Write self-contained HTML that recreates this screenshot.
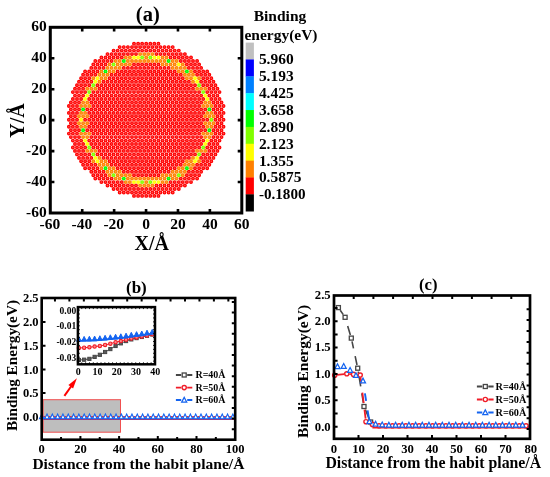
<!DOCTYPE html>
<html lang="en">
<head>
<meta charset="utf-8">
<title>Binding energy figure</title>
<style>
html,body{margin:0;padding:0;background:#fff;}
body{width:550px;height:477px;overflow:hidden;}
svg{display:block;}
svg text{font-family:'Liberation Serif', 'DejaVu Serif', serif;font-weight:bold;fill:#000;}
</style>
</head>
<body>
<svg width="550" height="477" viewBox="0 0 550 477">
<rect width="550" height="477" fill="#fff"/>
<g id="panel-a">
<g fill="#ff5050" stroke="#ff0000" stroke-width="1.2">
<circle cx="134.0" cy="43.7" r="1.35"/><circle cx="138.1" cy="43.7" r="1.35"/><circle cx="142.1" cy="43.7" r="1.35"/><circle cx="146.2" cy="43.7" r="1.35"/><circle cx="150.3" cy="43.7" r="1.35"/><circle cx="154.3" cy="43.7" r="1.35"/><circle cx="158.4" cy="43.7" r="1.35"/><circle cx="119.7" cy="47.1" r="1.35"/><circle cx="123.8" cy="47.1" r="1.35"/><circle cx="127.9" cy="47.1" r="1.35"/><circle cx="132.0" cy="47.1" r="1.35"/><circle cx="136.0" cy="47.1" r="1.35"/><circle cx="140.1" cy="47.1" r="1.35"/><circle cx="144.2" cy="47.1" r="1.35"/><circle cx="148.2" cy="47.1" r="1.35"/><circle cx="152.3" cy="47.1" r="1.35"/><circle cx="156.4" cy="47.1" r="1.35"/><circle cx="160.4" cy="47.1" r="1.35"/><circle cx="164.5" cy="47.1" r="1.35"/><circle cx="168.6" cy="47.1" r="1.35"/><circle cx="172.7" cy="47.1" r="1.35"/><circle cx="113.6" cy="50.6" r="1.35"/><circle cx="117.7" cy="50.6" r="1.35"/><circle cx="121.8" cy="50.6" r="1.35"/><circle cx="125.8" cy="50.6" r="1.35"/><circle cx="129.9" cy="50.6" r="1.35"/><circle cx="134.0" cy="50.6" r="1.35"/><circle cx="138.1" cy="50.6" r="1.35"/><circle cx="142.1" cy="50.6" r="1.35"/><circle cx="146.2" cy="50.6" r="1.35"/><circle cx="150.3" cy="50.6" r="1.35"/><circle cx="154.3" cy="50.6" r="1.35"/><circle cx="158.4" cy="50.6" r="1.35"/><circle cx="162.5" cy="50.6" r="1.35"/><circle cx="166.5" cy="50.6" r="1.35"/><circle cx="170.6" cy="50.6" r="1.35"/><circle cx="174.7" cy="50.6" r="1.35"/><circle cx="178.8" cy="50.6" r="1.35"/><circle cx="107.5" cy="54.1" r="1.35"/><circle cx="111.6" cy="54.1" r="1.35"/><circle cx="115.7" cy="54.1" r="1.35"/><circle cx="119.7" cy="54.1" r="1.35"/><circle cx="123.8" cy="54.1" r="1.35"/><circle cx="127.9" cy="54.1" r="1.35"/><circle cx="132.0" cy="54.1" r="1.35"/><circle cx="136.0" cy="54.1" r="1.35"/><circle cx="156.4" cy="54.1" r="1.35"/><circle cx="160.4" cy="54.1" r="1.35"/><circle cx="164.5" cy="54.1" r="1.35"/><circle cx="168.6" cy="54.1" r="1.35"/><circle cx="172.7" cy="54.1" r="1.35"/><circle cx="176.7" cy="54.1" r="1.35"/><circle cx="180.8" cy="54.1" r="1.35"/><circle cx="184.9" cy="54.1" r="1.35"/><circle cx="101.4" cy="57.5" r="1.35"/><circle cx="105.5" cy="57.5" r="1.35"/><circle cx="109.6" cy="57.5" r="1.35"/><circle cx="113.6" cy="57.5" r="1.35"/><circle cx="117.7" cy="57.5" r="1.35"/><circle cx="121.8" cy="57.5" r="1.35"/><circle cx="170.6" cy="57.5" r="1.35"/><circle cx="174.7" cy="57.5" r="1.35"/><circle cx="178.8" cy="57.5" r="1.35"/><circle cx="182.8" cy="57.5" r="1.35"/><circle cx="186.9" cy="57.5" r="1.35"/><circle cx="191.0" cy="57.5" r="1.35"/><circle cx="95.3" cy="61.0" r="1.35"/><circle cx="99.4" cy="61.0" r="1.35"/><circle cx="103.5" cy="61.0" r="1.35"/><circle cx="107.5" cy="61.0" r="1.35"/><circle cx="111.6" cy="61.0" r="1.35"/><circle cx="180.8" cy="61.0" r="1.35"/><circle cx="184.9" cy="61.0" r="1.35"/><circle cx="188.9" cy="61.0" r="1.35"/><circle cx="193.0" cy="61.0" r="1.35"/><circle cx="197.1" cy="61.0" r="1.35"/><circle cx="93.3" cy="64.4" r="1.35"/><circle cx="97.4" cy="64.4" r="1.35"/><circle cx="101.4" cy="64.4" r="1.35"/><circle cx="105.5" cy="64.4" r="1.35"/><circle cx="134.0" cy="64.4" r="1.35"/><circle cx="138.1" cy="64.4" r="1.35"/><circle cx="142.1" cy="64.4" r="1.35"/><circle cx="146.2" cy="64.4" r="1.35"/><circle cx="150.3" cy="64.4" r="1.35"/><circle cx="154.3" cy="64.4" r="1.35"/><circle cx="158.4" cy="64.4" r="1.35"/><circle cx="186.9" cy="64.4" r="1.35"/><circle cx="191.0" cy="64.4" r="1.35"/><circle cx="195.0" cy="64.4" r="1.35"/><circle cx="199.1" cy="64.4" r="1.35"/><circle cx="91.3" cy="67.9" r="1.35"/><circle cx="95.3" cy="67.9" r="1.35"/><circle cx="99.4" cy="67.9" r="1.35"/><circle cx="103.5" cy="67.9" r="1.35"/><circle cx="123.8" cy="67.9" r="1.35"/><circle cx="127.9" cy="67.9" r="1.35"/><circle cx="132.0" cy="67.9" r="1.35"/><circle cx="136.0" cy="67.9" r="1.35"/><circle cx="140.1" cy="67.9" r="1.35"/><circle cx="144.2" cy="67.9" r="1.35"/><circle cx="148.2" cy="67.9" r="1.35"/><circle cx="152.3" cy="67.9" r="1.35"/><circle cx="156.4" cy="67.9" r="1.35"/><circle cx="160.4" cy="67.9" r="1.35"/><circle cx="164.5" cy="67.9" r="1.35"/><circle cx="168.6" cy="67.9" r="1.35"/><circle cx="188.9" cy="67.9" r="1.35"/><circle cx="193.0" cy="67.9" r="1.35"/><circle cx="197.1" cy="67.9" r="1.35"/><circle cx="201.1" cy="67.9" r="1.35"/><circle cx="85.1" cy="71.4" r="1.35"/><circle cx="89.2" cy="71.4" r="1.35"/><circle cx="93.3" cy="71.4" r="1.35"/><circle cx="97.4" cy="71.4" r="1.35"/><circle cx="117.7" cy="71.4" r="1.35"/><circle cx="121.8" cy="71.4" r="1.35"/><circle cx="125.8" cy="71.4" r="1.35"/><circle cx="129.9" cy="71.4" r="1.35"/><circle cx="134.0" cy="71.4" r="1.35"/><circle cx="138.1" cy="71.4" r="1.35"/><circle cx="142.1" cy="71.4" r="1.35"/><circle cx="146.2" cy="71.4" r="1.35"/><circle cx="150.3" cy="71.4" r="1.35"/><circle cx="154.3" cy="71.4" r="1.35"/><circle cx="158.4" cy="71.4" r="1.35"/><circle cx="162.5" cy="71.4" r="1.35"/><circle cx="166.5" cy="71.4" r="1.35"/><circle cx="170.6" cy="71.4" r="1.35"/><circle cx="174.7" cy="71.4" r="1.35"/><circle cx="195.0" cy="71.4" r="1.35"/><circle cx="199.1" cy="71.4" r="1.35"/><circle cx="203.2" cy="71.4" r="1.35"/><circle cx="207.2" cy="71.4" r="1.35"/><circle cx="83.1" cy="74.8" r="1.35"/><circle cx="87.2" cy="74.8" r="1.35"/><circle cx="91.3" cy="74.8" r="1.35"/><circle cx="95.3" cy="74.8" r="1.35"/><circle cx="111.6" cy="74.8" r="1.35"/><circle cx="115.7" cy="74.8" r="1.35"/><circle cx="119.7" cy="74.8" r="1.35"/><circle cx="123.8" cy="74.8" r="1.35"/><circle cx="127.9" cy="74.8" r="1.35"/><circle cx="132.0" cy="74.8" r="1.35"/><circle cx="136.0" cy="74.8" r="1.35"/><circle cx="140.1" cy="74.8" r="1.35"/><circle cx="144.2" cy="74.8" r="1.35"/><circle cx="148.2" cy="74.8" r="1.35"/><circle cx="152.3" cy="74.8" r="1.35"/><circle cx="156.4" cy="74.8" r="1.35"/><circle cx="160.4" cy="74.8" r="1.35"/><circle cx="164.5" cy="74.8" r="1.35"/><circle cx="168.6" cy="74.8" r="1.35"/><circle cx="172.7" cy="74.8" r="1.35"/><circle cx="176.7" cy="74.8" r="1.35"/><circle cx="180.8" cy="74.8" r="1.35"/><circle cx="197.1" cy="74.8" r="1.35"/><circle cx="201.1" cy="74.8" r="1.35"/><circle cx="205.2" cy="74.8" r="1.35"/><circle cx="209.3" cy="74.8" r="1.35"/><circle cx="81.1" cy="78.3" r="1.35"/><circle cx="85.1" cy="78.3" r="1.35"/><circle cx="89.2" cy="78.3" r="1.35"/><circle cx="109.6" cy="78.3" r="1.35"/><circle cx="113.6" cy="78.3" r="1.35"/><circle cx="117.7" cy="78.3" r="1.35"/><circle cx="121.8" cy="78.3" r="1.35"/><circle cx="125.8" cy="78.3" r="1.35"/><circle cx="129.9" cy="78.3" r="1.35"/><circle cx="134.0" cy="78.3" r="1.35"/><circle cx="138.1" cy="78.3" r="1.35"/><circle cx="142.1" cy="78.3" r="1.35"/><circle cx="146.2" cy="78.3" r="1.35"/><circle cx="150.3" cy="78.3" r="1.35"/><circle cx="154.3" cy="78.3" r="1.35"/><circle cx="158.4" cy="78.3" r="1.35"/><circle cx="162.5" cy="78.3" r="1.35"/><circle cx="166.5" cy="78.3" r="1.35"/><circle cx="170.6" cy="78.3" r="1.35"/><circle cx="174.7" cy="78.3" r="1.35"/><circle cx="178.8" cy="78.3" r="1.35"/><circle cx="182.8" cy="78.3" r="1.35"/><circle cx="203.2" cy="78.3" r="1.35"/><circle cx="207.2" cy="78.3" r="1.35"/><circle cx="211.3" cy="78.3" r="1.35"/><circle cx="79.0" cy="81.7" r="1.35"/><circle cx="83.1" cy="81.7" r="1.35"/><circle cx="87.2" cy="81.7" r="1.35"/><circle cx="91.3" cy="81.7" r="1.35"/><circle cx="103.5" cy="81.7" r="1.35"/><circle cx="107.5" cy="81.7" r="1.35"/><circle cx="111.6" cy="81.7" r="1.35"/><circle cx="115.7" cy="81.7" r="1.35"/><circle cx="119.7" cy="81.7" r="1.35"/><circle cx="123.8" cy="81.7" r="1.35"/><circle cx="127.9" cy="81.7" r="1.35"/><circle cx="132.0" cy="81.7" r="1.35"/><circle cx="136.0" cy="81.7" r="1.35"/><circle cx="140.1" cy="81.7" r="1.35"/><circle cx="144.2" cy="81.7" r="1.35"/><circle cx="148.2" cy="81.7" r="1.35"/><circle cx="152.3" cy="81.7" r="1.35"/><circle cx="156.4" cy="81.7" r="1.35"/><circle cx="160.4" cy="81.7" r="1.35"/><circle cx="164.5" cy="81.7" r="1.35"/><circle cx="168.6" cy="81.7" r="1.35"/><circle cx="172.7" cy="81.7" r="1.35"/><circle cx="176.7" cy="81.7" r="1.35"/><circle cx="180.8" cy="81.7" r="1.35"/><circle cx="184.9" cy="81.7" r="1.35"/><circle cx="188.9" cy="81.7" r="1.35"/><circle cx="201.1" cy="81.7" r="1.35"/><circle cx="205.2" cy="81.7" r="1.35"/><circle cx="209.3" cy="81.7" r="1.35"/><circle cx="213.4" cy="81.7" r="1.35"/><circle cx="77.0" cy="85.2" r="1.35"/><circle cx="81.1" cy="85.2" r="1.35"/><circle cx="85.1" cy="85.2" r="1.35"/><circle cx="89.2" cy="85.2" r="1.35"/><circle cx="97.4" cy="85.2" r="1.35"/><circle cx="101.4" cy="85.2" r="1.35"/><circle cx="105.5" cy="85.2" r="1.35"/><circle cx="109.6" cy="85.2" r="1.35"/><circle cx="113.6" cy="85.2" r="1.35"/><circle cx="117.7" cy="85.2" r="1.35"/><circle cx="121.8" cy="85.2" r="1.35"/><circle cx="125.8" cy="85.2" r="1.35"/><circle cx="129.9" cy="85.2" r="1.35"/><circle cx="134.0" cy="85.2" r="1.35"/><circle cx="138.1" cy="85.2" r="1.35"/><circle cx="142.1" cy="85.2" r="1.35"/><circle cx="146.2" cy="85.2" r="1.35"/><circle cx="150.3" cy="85.2" r="1.35"/><circle cx="154.3" cy="85.2" r="1.35"/><circle cx="158.4" cy="85.2" r="1.35"/><circle cx="162.5" cy="85.2" r="1.35"/><circle cx="166.5" cy="85.2" r="1.35"/><circle cx="170.6" cy="85.2" r="1.35"/><circle cx="174.7" cy="85.2" r="1.35"/><circle cx="178.8" cy="85.2" r="1.35"/><circle cx="182.8" cy="85.2" r="1.35"/><circle cx="186.9" cy="85.2" r="1.35"/><circle cx="191.0" cy="85.2" r="1.35"/><circle cx="195.0" cy="85.2" r="1.35"/><circle cx="203.2" cy="85.2" r="1.35"/><circle cx="207.2" cy="85.2" r="1.35"/><circle cx="211.3" cy="85.2" r="1.35"/><circle cx="215.4" cy="85.2" r="1.35"/><circle cx="75.0" cy="88.7" r="1.35"/><circle cx="79.0" cy="88.7" r="1.35"/><circle cx="83.1" cy="88.7" r="1.35"/><circle cx="99.4" cy="88.7" r="1.35"/><circle cx="103.5" cy="88.7" r="1.35"/><circle cx="107.5" cy="88.7" r="1.35"/><circle cx="111.6" cy="88.7" r="1.35"/><circle cx="115.7" cy="88.7" r="1.35"/><circle cx="119.7" cy="88.7" r="1.35"/><circle cx="123.8" cy="88.7" r="1.35"/><circle cx="127.9" cy="88.7" r="1.35"/><circle cx="132.0" cy="88.7" r="1.35"/><circle cx="136.0" cy="88.7" r="1.35"/><circle cx="140.1" cy="88.7" r="1.35"/><circle cx="144.2" cy="88.7" r="1.35"/><circle cx="148.2" cy="88.7" r="1.35"/><circle cx="152.3" cy="88.7" r="1.35"/><circle cx="156.4" cy="88.7" r="1.35"/><circle cx="160.4" cy="88.7" r="1.35"/><circle cx="164.5" cy="88.7" r="1.35"/><circle cx="168.6" cy="88.7" r="1.35"/><circle cx="172.7" cy="88.7" r="1.35"/><circle cx="176.7" cy="88.7" r="1.35"/><circle cx="180.8" cy="88.7" r="1.35"/><circle cx="184.9" cy="88.7" r="1.35"/><circle cx="188.9" cy="88.7" r="1.35"/><circle cx="193.0" cy="88.7" r="1.35"/><circle cx="209.3" cy="88.7" r="1.35"/><circle cx="213.4" cy="88.7" r="1.35"/><circle cx="217.4" cy="88.7" r="1.35"/><circle cx="72.9" cy="92.1" r="1.35"/><circle cx="77.0" cy="92.1" r="1.35"/><circle cx="81.1" cy="92.1" r="1.35"/><circle cx="85.1" cy="92.1" r="1.35"/><circle cx="93.3" cy="92.1" r="1.35"/><circle cx="97.4" cy="92.1" r="1.35"/><circle cx="101.4" cy="92.1" r="1.35"/><circle cx="105.5" cy="92.1" r="1.35"/><circle cx="109.6" cy="92.1" r="1.35"/><circle cx="113.6" cy="92.1" r="1.35"/><circle cx="117.7" cy="92.1" r="1.35"/><circle cx="121.8" cy="92.1" r="1.35"/><circle cx="125.8" cy="92.1" r="1.35"/><circle cx="129.9" cy="92.1" r="1.35"/><circle cx="134.0" cy="92.1" r="1.35"/><circle cx="138.1" cy="92.1" r="1.35"/><circle cx="142.1" cy="92.1" r="1.35"/><circle cx="146.2" cy="92.1" r="1.35"/><circle cx="150.3" cy="92.1" r="1.35"/><circle cx="154.3" cy="92.1" r="1.35"/><circle cx="158.4" cy="92.1" r="1.35"/><circle cx="162.5" cy="92.1" r="1.35"/><circle cx="166.5" cy="92.1" r="1.35"/><circle cx="170.6" cy="92.1" r="1.35"/><circle cx="174.7" cy="92.1" r="1.35"/><circle cx="178.8" cy="92.1" r="1.35"/><circle cx="182.8" cy="92.1" r="1.35"/><circle cx="186.9" cy="92.1" r="1.35"/><circle cx="191.0" cy="92.1" r="1.35"/><circle cx="195.0" cy="92.1" r="1.35"/><circle cx="199.1" cy="92.1" r="1.35"/><circle cx="207.2" cy="92.1" r="1.35"/><circle cx="211.3" cy="92.1" r="1.35"/><circle cx="215.4" cy="92.1" r="1.35"/><circle cx="219.5" cy="92.1" r="1.35"/><circle cx="75.0" cy="95.6" r="1.35"/><circle cx="79.0" cy="95.6" r="1.35"/><circle cx="83.1" cy="95.6" r="1.35"/><circle cx="91.3" cy="95.6" r="1.35"/><circle cx="95.3" cy="95.6" r="1.35"/><circle cx="99.4" cy="95.6" r="1.35"/><circle cx="103.5" cy="95.6" r="1.35"/><circle cx="107.5" cy="95.6" r="1.35"/><circle cx="111.6" cy="95.6" r="1.35"/><circle cx="115.7" cy="95.6" r="1.35"/><circle cx="119.7" cy="95.6" r="1.35"/><circle cx="123.8" cy="95.6" r="1.35"/><circle cx="127.9" cy="95.6" r="1.35"/><circle cx="132.0" cy="95.6" r="1.35"/><circle cx="136.0" cy="95.6" r="1.35"/><circle cx="140.1" cy="95.6" r="1.35"/><circle cx="144.2" cy="95.6" r="1.35"/><circle cx="148.2" cy="95.6" r="1.35"/><circle cx="152.3" cy="95.6" r="1.35"/><circle cx="156.4" cy="95.6" r="1.35"/><circle cx="160.4" cy="95.6" r="1.35"/><circle cx="164.5" cy="95.6" r="1.35"/><circle cx="168.6" cy="95.6" r="1.35"/><circle cx="172.7" cy="95.6" r="1.35"/><circle cx="176.7" cy="95.6" r="1.35"/><circle cx="180.8" cy="95.6" r="1.35"/><circle cx="184.9" cy="95.6" r="1.35"/><circle cx="188.9" cy="95.6" r="1.35"/><circle cx="193.0" cy="95.6" r="1.35"/><circle cx="197.1" cy="95.6" r="1.35"/><circle cx="201.1" cy="95.6" r="1.35"/><circle cx="209.3" cy="95.6" r="1.35"/><circle cx="213.4" cy="95.6" r="1.35"/><circle cx="217.4" cy="95.6" r="1.35"/><circle cx="72.9" cy="99.0" r="1.35"/><circle cx="77.0" cy="99.0" r="1.35"/><circle cx="81.1" cy="99.0" r="1.35"/><circle cx="89.2" cy="99.0" r="1.35"/><circle cx="93.3" cy="99.0" r="1.35"/><circle cx="97.4" cy="99.0" r="1.35"/><circle cx="101.4" cy="99.0" r="1.35"/><circle cx="105.5" cy="99.0" r="1.35"/><circle cx="109.6" cy="99.0" r="1.35"/><circle cx="113.6" cy="99.0" r="1.35"/><circle cx="117.7" cy="99.0" r="1.35"/><circle cx="121.8" cy="99.0" r="1.35"/><circle cx="125.8" cy="99.0" r="1.35"/><circle cx="129.9" cy="99.0" r="1.35"/><circle cx="134.0" cy="99.0" r="1.35"/><circle cx="138.1" cy="99.0" r="1.35"/><circle cx="142.1" cy="99.0" r="1.35"/><circle cx="146.2" cy="99.0" r="1.35"/><circle cx="150.3" cy="99.0" r="1.35"/><circle cx="154.3" cy="99.0" r="1.35"/><circle cx="158.4" cy="99.0" r="1.35"/><circle cx="162.5" cy="99.0" r="1.35"/><circle cx="166.5" cy="99.0" r="1.35"/><circle cx="170.6" cy="99.0" r="1.35"/><circle cx="174.7" cy="99.0" r="1.35"/><circle cx="178.8" cy="99.0" r="1.35"/><circle cx="182.8" cy="99.0" r="1.35"/><circle cx="186.9" cy="99.0" r="1.35"/><circle cx="191.0" cy="99.0" r="1.35"/><circle cx="195.0" cy="99.0" r="1.35"/><circle cx="199.1" cy="99.0" r="1.35"/><circle cx="203.2" cy="99.0" r="1.35"/><circle cx="211.3" cy="99.0" r="1.35"/><circle cx="215.4" cy="99.0" r="1.35"/><circle cx="219.5" cy="99.0" r="1.35"/><circle cx="70.9" cy="102.5" r="1.35"/><circle cx="75.0" cy="102.5" r="1.35"/><circle cx="79.0" cy="102.5" r="1.35"/><circle cx="91.3" cy="102.5" r="1.35"/><circle cx="95.3" cy="102.5" r="1.35"/><circle cx="99.4" cy="102.5" r="1.35"/><circle cx="103.5" cy="102.5" r="1.35"/><circle cx="107.5" cy="102.5" r="1.35"/><circle cx="111.6" cy="102.5" r="1.35"/><circle cx="115.7" cy="102.5" r="1.35"/><circle cx="119.7" cy="102.5" r="1.35"/><circle cx="123.8" cy="102.5" r="1.35"/><circle cx="127.9" cy="102.5" r="1.35"/><circle cx="132.0" cy="102.5" r="1.35"/><circle cx="136.0" cy="102.5" r="1.35"/><circle cx="140.1" cy="102.5" r="1.35"/><circle cx="144.2" cy="102.5" r="1.35"/><circle cx="148.2" cy="102.5" r="1.35"/><circle cx="152.3" cy="102.5" r="1.35"/><circle cx="156.4" cy="102.5" r="1.35"/><circle cx="160.4" cy="102.5" r="1.35"/><circle cx="164.5" cy="102.5" r="1.35"/><circle cx="168.6" cy="102.5" r="1.35"/><circle cx="172.7" cy="102.5" r="1.35"/><circle cx="176.7" cy="102.5" r="1.35"/><circle cx="180.8" cy="102.5" r="1.35"/><circle cx="184.9" cy="102.5" r="1.35"/><circle cx="188.9" cy="102.5" r="1.35"/><circle cx="193.0" cy="102.5" r="1.35"/><circle cx="197.1" cy="102.5" r="1.35"/><circle cx="201.1" cy="102.5" r="1.35"/><circle cx="213.4" cy="102.5" r="1.35"/><circle cx="217.4" cy="102.5" r="1.35"/><circle cx="221.5" cy="102.5" r="1.35"/><circle cx="68.9" cy="106.0" r="1.35"/><circle cx="72.9" cy="106.0" r="1.35"/><circle cx="77.0" cy="106.0" r="1.35"/><circle cx="93.3" cy="106.0" r="1.35"/><circle cx="97.4" cy="106.0" r="1.35"/><circle cx="101.4" cy="106.0" r="1.35"/><circle cx="105.5" cy="106.0" r="1.35"/><circle cx="109.6" cy="106.0" r="1.35"/><circle cx="113.6" cy="106.0" r="1.35"/><circle cx="117.7" cy="106.0" r="1.35"/><circle cx="121.8" cy="106.0" r="1.35"/><circle cx="125.8" cy="106.0" r="1.35"/><circle cx="129.9" cy="106.0" r="1.35"/><circle cx="134.0" cy="106.0" r="1.35"/><circle cx="138.1" cy="106.0" r="1.35"/><circle cx="142.1" cy="106.0" r="1.35"/><circle cx="146.2" cy="106.0" r="1.35"/><circle cx="150.3" cy="106.0" r="1.35"/><circle cx="154.3" cy="106.0" r="1.35"/><circle cx="158.4" cy="106.0" r="1.35"/><circle cx="162.5" cy="106.0" r="1.35"/><circle cx="166.5" cy="106.0" r="1.35"/><circle cx="170.6" cy="106.0" r="1.35"/><circle cx="174.7" cy="106.0" r="1.35"/><circle cx="178.8" cy="106.0" r="1.35"/><circle cx="182.8" cy="106.0" r="1.35"/><circle cx="186.9" cy="106.0" r="1.35"/><circle cx="191.0" cy="106.0" r="1.35"/><circle cx="195.0" cy="106.0" r="1.35"/><circle cx="199.1" cy="106.0" r="1.35"/><circle cx="215.4" cy="106.0" r="1.35"/><circle cx="219.5" cy="106.0" r="1.35"/><circle cx="223.5" cy="106.0" r="1.35"/><circle cx="70.9" cy="109.4" r="1.35"/><circle cx="75.0" cy="109.4" r="1.35"/><circle cx="79.0" cy="109.4" r="1.35"/><circle cx="87.2" cy="109.4" r="1.35"/><circle cx="91.3" cy="109.4" r="1.35"/><circle cx="95.3" cy="109.4" r="1.35"/><circle cx="99.4" cy="109.4" r="1.35"/><circle cx="103.5" cy="109.4" r="1.35"/><circle cx="107.5" cy="109.4" r="1.35"/><circle cx="111.6" cy="109.4" r="1.35"/><circle cx="115.7" cy="109.4" r="1.35"/><circle cx="119.7" cy="109.4" r="1.35"/><circle cx="123.8" cy="109.4" r="1.35"/><circle cx="127.9" cy="109.4" r="1.35"/><circle cx="132.0" cy="109.4" r="1.35"/><circle cx="136.0" cy="109.4" r="1.35"/><circle cx="140.1" cy="109.4" r="1.35"/><circle cx="144.2" cy="109.4" r="1.35"/><circle cx="148.2" cy="109.4" r="1.35"/><circle cx="152.3" cy="109.4" r="1.35"/><circle cx="156.4" cy="109.4" r="1.35"/><circle cx="160.4" cy="109.4" r="1.35"/><circle cx="164.5" cy="109.4" r="1.35"/><circle cx="168.6" cy="109.4" r="1.35"/><circle cx="172.7" cy="109.4" r="1.35"/><circle cx="176.7" cy="109.4" r="1.35"/><circle cx="180.8" cy="109.4" r="1.35"/><circle cx="184.9" cy="109.4" r="1.35"/><circle cx="188.9" cy="109.4" r="1.35"/><circle cx="193.0" cy="109.4" r="1.35"/><circle cx="197.1" cy="109.4" r="1.35"/><circle cx="201.1" cy="109.4" r="1.35"/><circle cx="205.2" cy="109.4" r="1.35"/><circle cx="213.4" cy="109.4" r="1.35"/><circle cx="217.4" cy="109.4" r="1.35"/><circle cx="221.5" cy="109.4" r="1.35"/><circle cx="68.9" cy="112.9" r="1.35"/><circle cx="72.9" cy="112.9" r="1.35"/><circle cx="77.0" cy="112.9" r="1.35"/><circle cx="89.2" cy="112.9" r="1.35"/><circle cx="93.3" cy="112.9" r="1.35"/><circle cx="97.4" cy="112.9" r="1.35"/><circle cx="101.4" cy="112.9" r="1.35"/><circle cx="105.5" cy="112.9" r="1.35"/><circle cx="109.6" cy="112.9" r="1.35"/><circle cx="113.6" cy="112.9" r="1.35"/><circle cx="117.7" cy="112.9" r="1.35"/><circle cx="121.8" cy="112.9" r="1.35"/><circle cx="125.8" cy="112.9" r="1.35"/><circle cx="129.9" cy="112.9" r="1.35"/><circle cx="134.0" cy="112.9" r="1.35"/><circle cx="138.1" cy="112.9" r="1.35"/><circle cx="142.1" cy="112.9" r="1.35"/><circle cx="146.2" cy="112.9" r="1.35"/><circle cx="150.3" cy="112.9" r="1.35"/><circle cx="154.3" cy="112.9" r="1.35"/><circle cx="158.4" cy="112.9" r="1.35"/><circle cx="162.5" cy="112.9" r="1.35"/><circle cx="166.5" cy="112.9" r="1.35"/><circle cx="170.6" cy="112.9" r="1.35"/><circle cx="174.7" cy="112.9" r="1.35"/><circle cx="178.8" cy="112.9" r="1.35"/><circle cx="182.8" cy="112.9" r="1.35"/><circle cx="186.9" cy="112.9" r="1.35"/><circle cx="191.0" cy="112.9" r="1.35"/><circle cx="195.0" cy="112.9" r="1.35"/><circle cx="199.1" cy="112.9" r="1.35"/><circle cx="203.2" cy="112.9" r="1.35"/><circle cx="215.4" cy="112.9" r="1.35"/><circle cx="219.5" cy="112.9" r="1.35"/><circle cx="223.5" cy="112.9" r="1.35"/><circle cx="70.9" cy="116.3" r="1.35"/><circle cx="75.0" cy="116.3" r="1.35"/><circle cx="91.3" cy="116.3" r="1.35"/><circle cx="95.3" cy="116.3" r="1.35"/><circle cx="99.4" cy="116.3" r="1.35"/><circle cx="103.5" cy="116.3" r="1.35"/><circle cx="107.5" cy="116.3" r="1.35"/><circle cx="111.6" cy="116.3" r="1.35"/><circle cx="115.7" cy="116.3" r="1.35"/><circle cx="119.7" cy="116.3" r="1.35"/><circle cx="123.8" cy="116.3" r="1.35"/><circle cx="127.9" cy="116.3" r="1.35"/><circle cx="132.0" cy="116.3" r="1.35"/><circle cx="136.0" cy="116.3" r="1.35"/><circle cx="140.1" cy="116.3" r="1.35"/><circle cx="144.2" cy="116.3" r="1.35"/><circle cx="148.2" cy="116.3" r="1.35"/><circle cx="152.3" cy="116.3" r="1.35"/><circle cx="156.4" cy="116.3" r="1.35"/><circle cx="160.4" cy="116.3" r="1.35"/><circle cx="164.5" cy="116.3" r="1.35"/><circle cx="168.6" cy="116.3" r="1.35"/><circle cx="172.7" cy="116.3" r="1.35"/><circle cx="176.7" cy="116.3" r="1.35"/><circle cx="180.8" cy="116.3" r="1.35"/><circle cx="184.9" cy="116.3" r="1.35"/><circle cx="188.9" cy="116.3" r="1.35"/><circle cx="193.0" cy="116.3" r="1.35"/><circle cx="197.1" cy="116.3" r="1.35"/><circle cx="201.1" cy="116.3" r="1.35"/><circle cx="217.4" cy="116.3" r="1.35"/><circle cx="221.5" cy="116.3" r="1.35"/><circle cx="68.9" cy="119.8" r="1.35"/><circle cx="72.9" cy="119.8" r="1.35"/><circle cx="77.0" cy="119.8" r="1.35"/><circle cx="85.1" cy="119.8" r="1.35"/><circle cx="89.2" cy="119.8" r="1.35"/><circle cx="93.3" cy="119.8" r="1.35"/><circle cx="97.4" cy="119.8" r="1.35"/><circle cx="101.4" cy="119.8" r="1.35"/><circle cx="105.5" cy="119.8" r="1.35"/><circle cx="109.6" cy="119.8" r="1.35"/><circle cx="113.6" cy="119.8" r="1.35"/><circle cx="117.7" cy="119.8" r="1.35"/><circle cx="121.8" cy="119.8" r="1.35"/><circle cx="125.8" cy="119.8" r="1.35"/><circle cx="129.9" cy="119.8" r="1.35"/><circle cx="134.0" cy="119.8" r="1.35"/><circle cx="138.1" cy="119.8" r="1.35"/><circle cx="142.1" cy="119.8" r="1.35"/><circle cx="146.2" cy="119.8" r="1.35"/><circle cx="150.3" cy="119.8" r="1.35"/><circle cx="154.3" cy="119.8" r="1.35"/><circle cx="158.4" cy="119.8" r="1.35"/><circle cx="162.5" cy="119.8" r="1.35"/><circle cx="166.5" cy="119.8" r="1.35"/><circle cx="170.6" cy="119.8" r="1.35"/><circle cx="174.7" cy="119.8" r="1.35"/><circle cx="178.8" cy="119.8" r="1.35"/><circle cx="182.8" cy="119.8" r="1.35"/><circle cx="186.9" cy="119.8" r="1.35"/><circle cx="191.0" cy="119.8" r="1.35"/><circle cx="195.0" cy="119.8" r="1.35"/><circle cx="199.1" cy="119.8" r="1.35"/><circle cx="203.2" cy="119.8" r="1.35"/><circle cx="207.2" cy="119.8" r="1.35"/><circle cx="215.4" cy="119.8" r="1.35"/><circle cx="219.5" cy="119.8" r="1.35"/><circle cx="223.5" cy="119.8" r="1.35"/><circle cx="70.9" cy="123.3" r="1.35"/><circle cx="75.0" cy="123.3" r="1.35"/><circle cx="91.3" cy="123.3" r="1.35"/><circle cx="95.3" cy="123.3" r="1.35"/><circle cx="99.4" cy="123.3" r="1.35"/><circle cx="103.5" cy="123.3" r="1.35"/><circle cx="107.5" cy="123.3" r="1.35"/><circle cx="111.6" cy="123.3" r="1.35"/><circle cx="115.7" cy="123.3" r="1.35"/><circle cx="119.7" cy="123.3" r="1.35"/><circle cx="123.8" cy="123.3" r="1.35"/><circle cx="127.9" cy="123.3" r="1.35"/><circle cx="132.0" cy="123.3" r="1.35"/><circle cx="136.0" cy="123.3" r="1.35"/><circle cx="140.1" cy="123.3" r="1.35"/><circle cx="144.2" cy="123.3" r="1.35"/><circle cx="148.2" cy="123.3" r="1.35"/><circle cx="152.3" cy="123.3" r="1.35"/><circle cx="156.4" cy="123.3" r="1.35"/><circle cx="160.4" cy="123.3" r="1.35"/><circle cx="164.5" cy="123.3" r="1.35"/><circle cx="168.6" cy="123.3" r="1.35"/><circle cx="172.7" cy="123.3" r="1.35"/><circle cx="176.7" cy="123.3" r="1.35"/><circle cx="180.8" cy="123.3" r="1.35"/><circle cx="184.9" cy="123.3" r="1.35"/><circle cx="188.9" cy="123.3" r="1.35"/><circle cx="193.0" cy="123.3" r="1.35"/><circle cx="197.1" cy="123.3" r="1.35"/><circle cx="201.1" cy="123.3" r="1.35"/><circle cx="217.4" cy="123.3" r="1.35"/><circle cx="221.5" cy="123.3" r="1.35"/><circle cx="68.9" cy="126.7" r="1.35"/><circle cx="72.9" cy="126.7" r="1.35"/><circle cx="77.0" cy="126.7" r="1.35"/><circle cx="89.2" cy="126.7" r="1.35"/><circle cx="93.3" cy="126.7" r="1.35"/><circle cx="97.4" cy="126.7" r="1.35"/><circle cx="101.4" cy="126.7" r="1.35"/><circle cx="105.5" cy="126.7" r="1.35"/><circle cx="109.6" cy="126.7" r="1.35"/><circle cx="113.6" cy="126.7" r="1.35"/><circle cx="117.7" cy="126.7" r="1.35"/><circle cx="121.8" cy="126.7" r="1.35"/><circle cx="125.8" cy="126.7" r="1.35"/><circle cx="129.9" cy="126.7" r="1.35"/><circle cx="134.0" cy="126.7" r="1.35"/><circle cx="138.1" cy="126.7" r="1.35"/><circle cx="142.1" cy="126.7" r="1.35"/><circle cx="146.2" cy="126.7" r="1.35"/><circle cx="150.3" cy="126.7" r="1.35"/><circle cx="154.3" cy="126.7" r="1.35"/><circle cx="158.4" cy="126.7" r="1.35"/><circle cx="162.5" cy="126.7" r="1.35"/><circle cx="166.5" cy="126.7" r="1.35"/><circle cx="170.6" cy="126.7" r="1.35"/><circle cx="174.7" cy="126.7" r="1.35"/><circle cx="178.8" cy="126.7" r="1.35"/><circle cx="182.8" cy="126.7" r="1.35"/><circle cx="186.9" cy="126.7" r="1.35"/><circle cx="191.0" cy="126.7" r="1.35"/><circle cx="195.0" cy="126.7" r="1.35"/><circle cx="199.1" cy="126.7" r="1.35"/><circle cx="203.2" cy="126.7" r="1.35"/><circle cx="215.4" cy="126.7" r="1.35"/><circle cx="219.5" cy="126.7" r="1.35"/><circle cx="223.5" cy="126.7" r="1.35"/><circle cx="70.9" cy="130.2" r="1.35"/><circle cx="75.0" cy="130.2" r="1.35"/><circle cx="79.0" cy="130.2" r="1.35"/><circle cx="87.2" cy="130.2" r="1.35"/><circle cx="91.3" cy="130.2" r="1.35"/><circle cx="95.3" cy="130.2" r="1.35"/><circle cx="99.4" cy="130.2" r="1.35"/><circle cx="103.5" cy="130.2" r="1.35"/><circle cx="107.5" cy="130.2" r="1.35"/><circle cx="111.6" cy="130.2" r="1.35"/><circle cx="115.7" cy="130.2" r="1.35"/><circle cx="119.7" cy="130.2" r="1.35"/><circle cx="123.8" cy="130.2" r="1.35"/><circle cx="127.9" cy="130.2" r="1.35"/><circle cx="132.0" cy="130.2" r="1.35"/><circle cx="136.0" cy="130.2" r="1.35"/><circle cx="140.1" cy="130.2" r="1.35"/><circle cx="144.2" cy="130.2" r="1.35"/><circle cx="148.2" cy="130.2" r="1.35"/><circle cx="152.3" cy="130.2" r="1.35"/><circle cx="156.4" cy="130.2" r="1.35"/><circle cx="160.4" cy="130.2" r="1.35"/><circle cx="164.5" cy="130.2" r="1.35"/><circle cx="168.6" cy="130.2" r="1.35"/><circle cx="172.7" cy="130.2" r="1.35"/><circle cx="176.7" cy="130.2" r="1.35"/><circle cx="180.8" cy="130.2" r="1.35"/><circle cx="184.9" cy="130.2" r="1.35"/><circle cx="188.9" cy="130.2" r="1.35"/><circle cx="193.0" cy="130.2" r="1.35"/><circle cx="197.1" cy="130.2" r="1.35"/><circle cx="201.1" cy="130.2" r="1.35"/><circle cx="205.2" cy="130.2" r="1.35"/><circle cx="213.4" cy="130.2" r="1.35"/><circle cx="217.4" cy="130.2" r="1.35"/><circle cx="221.5" cy="130.2" r="1.35"/><circle cx="68.9" cy="133.6" r="1.35"/><circle cx="72.9" cy="133.6" r="1.35"/><circle cx="77.0" cy="133.6" r="1.35"/><circle cx="93.3" cy="133.6" r="1.35"/><circle cx="97.4" cy="133.6" r="1.35"/><circle cx="101.4" cy="133.6" r="1.35"/><circle cx="105.5" cy="133.6" r="1.35"/><circle cx="109.6" cy="133.6" r="1.35"/><circle cx="113.6" cy="133.6" r="1.35"/><circle cx="117.7" cy="133.6" r="1.35"/><circle cx="121.8" cy="133.6" r="1.35"/><circle cx="125.8" cy="133.6" r="1.35"/><circle cx="129.9" cy="133.6" r="1.35"/><circle cx="134.0" cy="133.6" r="1.35"/><circle cx="138.1" cy="133.6" r="1.35"/><circle cx="142.1" cy="133.6" r="1.35"/><circle cx="146.2" cy="133.6" r="1.35"/><circle cx="150.3" cy="133.6" r="1.35"/><circle cx="154.3" cy="133.6" r="1.35"/><circle cx="158.4" cy="133.6" r="1.35"/><circle cx="162.5" cy="133.6" r="1.35"/><circle cx="166.5" cy="133.6" r="1.35"/><circle cx="170.6" cy="133.6" r="1.35"/><circle cx="174.7" cy="133.6" r="1.35"/><circle cx="178.8" cy="133.6" r="1.35"/><circle cx="182.8" cy="133.6" r="1.35"/><circle cx="186.9" cy="133.6" r="1.35"/><circle cx="191.0" cy="133.6" r="1.35"/><circle cx="195.0" cy="133.6" r="1.35"/><circle cx="199.1" cy="133.6" r="1.35"/><circle cx="215.4" cy="133.6" r="1.35"/><circle cx="219.5" cy="133.6" r="1.35"/><circle cx="223.5" cy="133.6" r="1.35"/><circle cx="70.9" cy="137.1" r="1.35"/><circle cx="75.0" cy="137.1" r="1.35"/><circle cx="79.0" cy="137.1" r="1.35"/><circle cx="91.3" cy="137.1" r="1.35"/><circle cx="95.3" cy="137.1" r="1.35"/><circle cx="99.4" cy="137.1" r="1.35"/><circle cx="103.5" cy="137.1" r="1.35"/><circle cx="107.5" cy="137.1" r="1.35"/><circle cx="111.6" cy="137.1" r="1.35"/><circle cx="115.7" cy="137.1" r="1.35"/><circle cx="119.7" cy="137.1" r="1.35"/><circle cx="123.8" cy="137.1" r="1.35"/><circle cx="127.9" cy="137.1" r="1.35"/><circle cx="132.0" cy="137.1" r="1.35"/><circle cx="136.0" cy="137.1" r="1.35"/><circle cx="140.1" cy="137.1" r="1.35"/><circle cx="144.2" cy="137.1" r="1.35"/><circle cx="148.2" cy="137.1" r="1.35"/><circle cx="152.3" cy="137.1" r="1.35"/><circle cx="156.4" cy="137.1" r="1.35"/><circle cx="160.4" cy="137.1" r="1.35"/><circle cx="164.5" cy="137.1" r="1.35"/><circle cx="168.6" cy="137.1" r="1.35"/><circle cx="172.7" cy="137.1" r="1.35"/><circle cx="176.7" cy="137.1" r="1.35"/><circle cx="180.8" cy="137.1" r="1.35"/><circle cx="184.9" cy="137.1" r="1.35"/><circle cx="188.9" cy="137.1" r="1.35"/><circle cx="193.0" cy="137.1" r="1.35"/><circle cx="197.1" cy="137.1" r="1.35"/><circle cx="201.1" cy="137.1" r="1.35"/><circle cx="213.4" cy="137.1" r="1.35"/><circle cx="217.4" cy="137.1" r="1.35"/><circle cx="221.5" cy="137.1" r="1.35"/><circle cx="72.9" cy="140.6" r="1.35"/><circle cx="77.0" cy="140.6" r="1.35"/><circle cx="81.1" cy="140.6" r="1.35"/><circle cx="89.2" cy="140.6" r="1.35"/><circle cx="93.3" cy="140.6" r="1.35"/><circle cx="97.4" cy="140.6" r="1.35"/><circle cx="101.4" cy="140.6" r="1.35"/><circle cx="105.5" cy="140.6" r="1.35"/><circle cx="109.6" cy="140.6" r="1.35"/><circle cx="113.6" cy="140.6" r="1.35"/><circle cx="117.7" cy="140.6" r="1.35"/><circle cx="121.8" cy="140.6" r="1.35"/><circle cx="125.8" cy="140.6" r="1.35"/><circle cx="129.9" cy="140.6" r="1.35"/><circle cx="134.0" cy="140.6" r="1.35"/><circle cx="138.1" cy="140.6" r="1.35"/><circle cx="142.1" cy="140.6" r="1.35"/><circle cx="146.2" cy="140.6" r="1.35"/><circle cx="150.3" cy="140.6" r="1.35"/><circle cx="154.3" cy="140.6" r="1.35"/><circle cx="158.4" cy="140.6" r="1.35"/><circle cx="162.5" cy="140.6" r="1.35"/><circle cx="166.5" cy="140.6" r="1.35"/><circle cx="170.6" cy="140.6" r="1.35"/><circle cx="174.7" cy="140.6" r="1.35"/><circle cx="178.8" cy="140.6" r="1.35"/><circle cx="182.8" cy="140.6" r="1.35"/><circle cx="186.9" cy="140.6" r="1.35"/><circle cx="191.0" cy="140.6" r="1.35"/><circle cx="195.0" cy="140.6" r="1.35"/><circle cx="199.1" cy="140.6" r="1.35"/><circle cx="203.2" cy="140.6" r="1.35"/><circle cx="211.3" cy="140.6" r="1.35"/><circle cx="215.4" cy="140.6" r="1.35"/><circle cx="219.5" cy="140.6" r="1.35"/><circle cx="75.0" cy="144.0" r="1.35"/><circle cx="79.0" cy="144.0" r="1.35"/><circle cx="83.1" cy="144.0" r="1.35"/><circle cx="91.3" cy="144.0" r="1.35"/><circle cx="95.3" cy="144.0" r="1.35"/><circle cx="99.4" cy="144.0" r="1.35"/><circle cx="103.5" cy="144.0" r="1.35"/><circle cx="107.5" cy="144.0" r="1.35"/><circle cx="111.6" cy="144.0" r="1.35"/><circle cx="115.7" cy="144.0" r="1.35"/><circle cx="119.7" cy="144.0" r="1.35"/><circle cx="123.8" cy="144.0" r="1.35"/><circle cx="127.9" cy="144.0" r="1.35"/><circle cx="132.0" cy="144.0" r="1.35"/><circle cx="136.0" cy="144.0" r="1.35"/><circle cx="140.1" cy="144.0" r="1.35"/><circle cx="144.2" cy="144.0" r="1.35"/><circle cx="148.2" cy="144.0" r="1.35"/><circle cx="152.3" cy="144.0" r="1.35"/><circle cx="156.4" cy="144.0" r="1.35"/><circle cx="160.4" cy="144.0" r="1.35"/><circle cx="164.5" cy="144.0" r="1.35"/><circle cx="168.6" cy="144.0" r="1.35"/><circle cx="172.7" cy="144.0" r="1.35"/><circle cx="176.7" cy="144.0" r="1.35"/><circle cx="180.8" cy="144.0" r="1.35"/><circle cx="184.9" cy="144.0" r="1.35"/><circle cx="188.9" cy="144.0" r="1.35"/><circle cx="193.0" cy="144.0" r="1.35"/><circle cx="197.1" cy="144.0" r="1.35"/><circle cx="201.1" cy="144.0" r="1.35"/><circle cx="209.3" cy="144.0" r="1.35"/><circle cx="213.4" cy="144.0" r="1.35"/><circle cx="217.4" cy="144.0" r="1.35"/><circle cx="72.9" cy="147.5" r="1.35"/><circle cx="77.0" cy="147.5" r="1.35"/><circle cx="81.1" cy="147.5" r="1.35"/><circle cx="85.1" cy="147.5" r="1.35"/><circle cx="93.3" cy="147.5" r="1.35"/><circle cx="97.4" cy="147.5" r="1.35"/><circle cx="101.4" cy="147.5" r="1.35"/><circle cx="105.5" cy="147.5" r="1.35"/><circle cx="109.6" cy="147.5" r="1.35"/><circle cx="113.6" cy="147.5" r="1.35"/><circle cx="117.7" cy="147.5" r="1.35"/><circle cx="121.8" cy="147.5" r="1.35"/><circle cx="125.8" cy="147.5" r="1.35"/><circle cx="129.9" cy="147.5" r="1.35"/><circle cx="134.0" cy="147.5" r="1.35"/><circle cx="138.1" cy="147.5" r="1.35"/><circle cx="142.1" cy="147.5" r="1.35"/><circle cx="146.2" cy="147.5" r="1.35"/><circle cx="150.3" cy="147.5" r="1.35"/><circle cx="154.3" cy="147.5" r="1.35"/><circle cx="158.4" cy="147.5" r="1.35"/><circle cx="162.5" cy="147.5" r="1.35"/><circle cx="166.5" cy="147.5" r="1.35"/><circle cx="170.6" cy="147.5" r="1.35"/><circle cx="174.7" cy="147.5" r="1.35"/><circle cx="178.8" cy="147.5" r="1.35"/><circle cx="182.8" cy="147.5" r="1.35"/><circle cx="186.9" cy="147.5" r="1.35"/><circle cx="191.0" cy="147.5" r="1.35"/><circle cx="195.0" cy="147.5" r="1.35"/><circle cx="199.1" cy="147.5" r="1.35"/><circle cx="207.2" cy="147.5" r="1.35"/><circle cx="211.3" cy="147.5" r="1.35"/><circle cx="215.4" cy="147.5" r="1.35"/><circle cx="219.5" cy="147.5" r="1.35"/><circle cx="75.0" cy="150.9" r="1.35"/><circle cx="79.0" cy="150.9" r="1.35"/><circle cx="83.1" cy="150.9" r="1.35"/><circle cx="99.4" cy="150.9" r="1.35"/><circle cx="103.5" cy="150.9" r="1.35"/><circle cx="107.5" cy="150.9" r="1.35"/><circle cx="111.6" cy="150.9" r="1.35"/><circle cx="115.7" cy="150.9" r="1.35"/><circle cx="119.7" cy="150.9" r="1.35"/><circle cx="123.8" cy="150.9" r="1.35"/><circle cx="127.9" cy="150.9" r="1.35"/><circle cx="132.0" cy="150.9" r="1.35"/><circle cx="136.0" cy="150.9" r="1.35"/><circle cx="140.1" cy="150.9" r="1.35"/><circle cx="144.2" cy="150.9" r="1.35"/><circle cx="148.2" cy="150.9" r="1.35"/><circle cx="152.3" cy="150.9" r="1.35"/><circle cx="156.4" cy="150.9" r="1.35"/><circle cx="160.4" cy="150.9" r="1.35"/><circle cx="164.5" cy="150.9" r="1.35"/><circle cx="168.6" cy="150.9" r="1.35"/><circle cx="172.7" cy="150.9" r="1.35"/><circle cx="176.7" cy="150.9" r="1.35"/><circle cx="180.8" cy="150.9" r="1.35"/><circle cx="184.9" cy="150.9" r="1.35"/><circle cx="188.9" cy="150.9" r="1.35"/><circle cx="193.0" cy="150.9" r="1.35"/><circle cx="209.3" cy="150.9" r="1.35"/><circle cx="213.4" cy="150.9" r="1.35"/><circle cx="217.4" cy="150.9" r="1.35"/><circle cx="77.0" cy="154.4" r="1.35"/><circle cx="81.1" cy="154.4" r="1.35"/><circle cx="85.1" cy="154.4" r="1.35"/><circle cx="89.2" cy="154.4" r="1.35"/><circle cx="97.4" cy="154.4" r="1.35"/><circle cx="101.4" cy="154.4" r="1.35"/><circle cx="105.5" cy="154.4" r="1.35"/><circle cx="109.6" cy="154.4" r="1.35"/><circle cx="113.6" cy="154.4" r="1.35"/><circle cx="117.7" cy="154.4" r="1.35"/><circle cx="121.8" cy="154.4" r="1.35"/><circle cx="125.8" cy="154.4" r="1.35"/><circle cx="129.9" cy="154.4" r="1.35"/><circle cx="134.0" cy="154.4" r="1.35"/><circle cx="138.1" cy="154.4" r="1.35"/><circle cx="142.1" cy="154.4" r="1.35"/><circle cx="146.2" cy="154.4" r="1.35"/><circle cx="150.3" cy="154.4" r="1.35"/><circle cx="154.3" cy="154.4" r="1.35"/><circle cx="158.4" cy="154.4" r="1.35"/><circle cx="162.5" cy="154.4" r="1.35"/><circle cx="166.5" cy="154.4" r="1.35"/><circle cx="170.6" cy="154.4" r="1.35"/><circle cx="174.7" cy="154.4" r="1.35"/><circle cx="178.8" cy="154.4" r="1.35"/><circle cx="182.8" cy="154.4" r="1.35"/><circle cx="186.9" cy="154.4" r="1.35"/><circle cx="191.0" cy="154.4" r="1.35"/><circle cx="195.0" cy="154.4" r="1.35"/><circle cx="203.2" cy="154.4" r="1.35"/><circle cx="207.2" cy="154.4" r="1.35"/><circle cx="211.3" cy="154.4" r="1.35"/><circle cx="215.4" cy="154.4" r="1.35"/><circle cx="79.0" cy="157.9" r="1.35"/><circle cx="83.1" cy="157.9" r="1.35"/><circle cx="87.2" cy="157.9" r="1.35"/><circle cx="91.3" cy="157.9" r="1.35"/><circle cx="103.5" cy="157.9" r="1.35"/><circle cx="107.5" cy="157.9" r="1.35"/><circle cx="111.6" cy="157.9" r="1.35"/><circle cx="115.7" cy="157.9" r="1.35"/><circle cx="119.7" cy="157.9" r="1.35"/><circle cx="123.8" cy="157.9" r="1.35"/><circle cx="127.9" cy="157.9" r="1.35"/><circle cx="132.0" cy="157.9" r="1.35"/><circle cx="136.0" cy="157.9" r="1.35"/><circle cx="140.1" cy="157.9" r="1.35"/><circle cx="144.2" cy="157.9" r="1.35"/><circle cx="148.2" cy="157.9" r="1.35"/><circle cx="152.3" cy="157.9" r="1.35"/><circle cx="156.4" cy="157.9" r="1.35"/><circle cx="160.4" cy="157.9" r="1.35"/><circle cx="164.5" cy="157.9" r="1.35"/><circle cx="168.6" cy="157.9" r="1.35"/><circle cx="172.7" cy="157.9" r="1.35"/><circle cx="176.7" cy="157.9" r="1.35"/><circle cx="180.8" cy="157.9" r="1.35"/><circle cx="184.9" cy="157.9" r="1.35"/><circle cx="188.9" cy="157.9" r="1.35"/><circle cx="201.1" cy="157.9" r="1.35"/><circle cx="205.2" cy="157.9" r="1.35"/><circle cx="209.3" cy="157.9" r="1.35"/><circle cx="213.4" cy="157.9" r="1.35"/><circle cx="81.1" cy="161.3" r="1.35"/><circle cx="85.1" cy="161.3" r="1.35"/><circle cx="89.2" cy="161.3" r="1.35"/><circle cx="109.6" cy="161.3" r="1.35"/><circle cx="113.6" cy="161.3" r="1.35"/><circle cx="117.7" cy="161.3" r="1.35"/><circle cx="121.8" cy="161.3" r="1.35"/><circle cx="125.8" cy="161.3" r="1.35"/><circle cx="129.9" cy="161.3" r="1.35"/><circle cx="134.0" cy="161.3" r="1.35"/><circle cx="138.1" cy="161.3" r="1.35"/><circle cx="142.1" cy="161.3" r="1.35"/><circle cx="146.2" cy="161.3" r="1.35"/><circle cx="150.3" cy="161.3" r="1.35"/><circle cx="154.3" cy="161.3" r="1.35"/><circle cx="158.4" cy="161.3" r="1.35"/><circle cx="162.5" cy="161.3" r="1.35"/><circle cx="166.5" cy="161.3" r="1.35"/><circle cx="170.6" cy="161.3" r="1.35"/><circle cx="174.7" cy="161.3" r="1.35"/><circle cx="178.8" cy="161.3" r="1.35"/><circle cx="182.8" cy="161.3" r="1.35"/><circle cx="203.2" cy="161.3" r="1.35"/><circle cx="207.2" cy="161.3" r="1.35"/><circle cx="211.3" cy="161.3" r="1.35"/><circle cx="83.1" cy="164.8" r="1.35"/><circle cx="87.2" cy="164.8" r="1.35"/><circle cx="91.3" cy="164.8" r="1.35"/><circle cx="95.3" cy="164.8" r="1.35"/><circle cx="111.6" cy="164.8" r="1.35"/><circle cx="115.7" cy="164.8" r="1.35"/><circle cx="119.7" cy="164.8" r="1.35"/><circle cx="123.8" cy="164.8" r="1.35"/><circle cx="127.9" cy="164.8" r="1.35"/><circle cx="132.0" cy="164.8" r="1.35"/><circle cx="136.0" cy="164.8" r="1.35"/><circle cx="140.1" cy="164.8" r="1.35"/><circle cx="144.2" cy="164.8" r="1.35"/><circle cx="148.2" cy="164.8" r="1.35"/><circle cx="152.3" cy="164.8" r="1.35"/><circle cx="156.4" cy="164.8" r="1.35"/><circle cx="160.4" cy="164.8" r="1.35"/><circle cx="164.5" cy="164.8" r="1.35"/><circle cx="168.6" cy="164.8" r="1.35"/><circle cx="172.7" cy="164.8" r="1.35"/><circle cx="176.7" cy="164.8" r="1.35"/><circle cx="180.8" cy="164.8" r="1.35"/><circle cx="197.1" cy="164.8" r="1.35"/><circle cx="201.1" cy="164.8" r="1.35"/><circle cx="205.2" cy="164.8" r="1.35"/><circle cx="209.3" cy="164.8" r="1.35"/><circle cx="85.1" cy="168.2" r="1.35"/><circle cx="89.2" cy="168.2" r="1.35"/><circle cx="93.3" cy="168.2" r="1.35"/><circle cx="97.4" cy="168.2" r="1.35"/><circle cx="117.7" cy="168.2" r="1.35"/><circle cx="121.8" cy="168.2" r="1.35"/><circle cx="125.8" cy="168.2" r="1.35"/><circle cx="129.9" cy="168.2" r="1.35"/><circle cx="134.0" cy="168.2" r="1.35"/><circle cx="138.1" cy="168.2" r="1.35"/><circle cx="142.1" cy="168.2" r="1.35"/><circle cx="146.2" cy="168.2" r="1.35"/><circle cx="150.3" cy="168.2" r="1.35"/><circle cx="154.3" cy="168.2" r="1.35"/><circle cx="158.4" cy="168.2" r="1.35"/><circle cx="162.5" cy="168.2" r="1.35"/><circle cx="166.5" cy="168.2" r="1.35"/><circle cx="170.6" cy="168.2" r="1.35"/><circle cx="174.7" cy="168.2" r="1.35"/><circle cx="195.0" cy="168.2" r="1.35"/><circle cx="199.1" cy="168.2" r="1.35"/><circle cx="203.2" cy="168.2" r="1.35"/><circle cx="207.2" cy="168.2" r="1.35"/><circle cx="91.3" cy="171.7" r="1.35"/><circle cx="95.3" cy="171.7" r="1.35"/><circle cx="99.4" cy="171.7" r="1.35"/><circle cx="103.5" cy="171.7" r="1.35"/><circle cx="123.8" cy="171.7" r="1.35"/><circle cx="127.9" cy="171.7" r="1.35"/><circle cx="132.0" cy="171.7" r="1.35"/><circle cx="136.0" cy="171.7" r="1.35"/><circle cx="140.1" cy="171.7" r="1.35"/><circle cx="144.2" cy="171.7" r="1.35"/><circle cx="148.2" cy="171.7" r="1.35"/><circle cx="152.3" cy="171.7" r="1.35"/><circle cx="156.4" cy="171.7" r="1.35"/><circle cx="160.4" cy="171.7" r="1.35"/><circle cx="164.5" cy="171.7" r="1.35"/><circle cx="168.6" cy="171.7" r="1.35"/><circle cx="188.9" cy="171.7" r="1.35"/><circle cx="193.0" cy="171.7" r="1.35"/><circle cx="197.1" cy="171.7" r="1.35"/><circle cx="201.1" cy="171.7" r="1.35"/><circle cx="93.3" cy="175.2" r="1.35"/><circle cx="97.4" cy="175.2" r="1.35"/><circle cx="101.4" cy="175.2" r="1.35"/><circle cx="105.5" cy="175.2" r="1.35"/><circle cx="134.0" cy="175.2" r="1.35"/><circle cx="138.1" cy="175.2" r="1.35"/><circle cx="142.1" cy="175.2" r="1.35"/><circle cx="146.2" cy="175.2" r="1.35"/><circle cx="150.3" cy="175.2" r="1.35"/><circle cx="154.3" cy="175.2" r="1.35"/><circle cx="158.4" cy="175.2" r="1.35"/><circle cx="186.9" cy="175.2" r="1.35"/><circle cx="191.0" cy="175.2" r="1.35"/><circle cx="195.0" cy="175.2" r="1.35"/><circle cx="199.1" cy="175.2" r="1.35"/><circle cx="95.3" cy="178.6" r="1.35"/><circle cx="99.4" cy="178.6" r="1.35"/><circle cx="103.5" cy="178.6" r="1.35"/><circle cx="107.5" cy="178.6" r="1.35"/><circle cx="111.6" cy="178.6" r="1.35"/><circle cx="180.8" cy="178.6" r="1.35"/><circle cx="184.9" cy="178.6" r="1.35"/><circle cx="188.9" cy="178.6" r="1.35"/><circle cx="193.0" cy="178.6" r="1.35"/><circle cx="197.1" cy="178.6" r="1.35"/><circle cx="101.4" cy="182.1" r="1.35"/><circle cx="105.5" cy="182.1" r="1.35"/><circle cx="109.6" cy="182.1" r="1.35"/><circle cx="113.6" cy="182.1" r="1.35"/><circle cx="117.7" cy="182.1" r="1.35"/><circle cx="121.8" cy="182.1" r="1.35"/><circle cx="170.6" cy="182.1" r="1.35"/><circle cx="174.7" cy="182.1" r="1.35"/><circle cx="178.8" cy="182.1" r="1.35"/><circle cx="182.8" cy="182.1" r="1.35"/><circle cx="186.9" cy="182.1" r="1.35"/><circle cx="191.0" cy="182.1" r="1.35"/><circle cx="107.5" cy="185.5" r="1.35"/><circle cx="111.6" cy="185.5" r="1.35"/><circle cx="115.7" cy="185.5" r="1.35"/><circle cx="119.7" cy="185.5" r="1.35"/><circle cx="123.8" cy="185.5" r="1.35"/><circle cx="127.9" cy="185.5" r="1.35"/><circle cx="132.0" cy="185.5" r="1.35"/><circle cx="136.0" cy="185.5" r="1.35"/><circle cx="156.4" cy="185.5" r="1.35"/><circle cx="160.4" cy="185.5" r="1.35"/><circle cx="164.5" cy="185.5" r="1.35"/><circle cx="168.6" cy="185.5" r="1.35"/><circle cx="172.7" cy="185.5" r="1.35"/><circle cx="176.7" cy="185.5" r="1.35"/><circle cx="180.8" cy="185.5" r="1.35"/><circle cx="184.9" cy="185.5" r="1.35"/><circle cx="113.6" cy="189.0" r="1.35"/><circle cx="117.7" cy="189.0" r="1.35"/><circle cx="121.8" cy="189.0" r="1.35"/><circle cx="125.8" cy="189.0" r="1.35"/><circle cx="129.9" cy="189.0" r="1.35"/><circle cx="134.0" cy="189.0" r="1.35"/><circle cx="138.1" cy="189.0" r="1.35"/><circle cx="142.1" cy="189.0" r="1.35"/><circle cx="146.2" cy="189.0" r="1.35"/><circle cx="150.3" cy="189.0" r="1.35"/><circle cx="154.3" cy="189.0" r="1.35"/><circle cx="158.4" cy="189.0" r="1.35"/><circle cx="162.5" cy="189.0" r="1.35"/><circle cx="166.5" cy="189.0" r="1.35"/><circle cx="170.6" cy="189.0" r="1.35"/><circle cx="174.7" cy="189.0" r="1.35"/><circle cx="178.8" cy="189.0" r="1.35"/><circle cx="119.7" cy="192.5" r="1.35"/><circle cx="123.8" cy="192.5" r="1.35"/><circle cx="127.9" cy="192.5" r="1.35"/><circle cx="132.0" cy="192.5" r="1.35"/><circle cx="136.0" cy="192.5" r="1.35"/><circle cx="140.1" cy="192.5" r="1.35"/><circle cx="144.2" cy="192.5" r="1.35"/><circle cx="148.2" cy="192.5" r="1.35"/><circle cx="152.3" cy="192.5" r="1.35"/><circle cx="156.4" cy="192.5" r="1.35"/><circle cx="160.4" cy="192.5" r="1.35"/><circle cx="164.5" cy="192.5" r="1.35"/><circle cx="168.6" cy="192.5" r="1.35"/><circle cx="172.7" cy="192.5" r="1.35"/><circle cx="134.0" cy="195.9" r="1.35"/><circle cx="138.1" cy="195.9" r="1.35"/><circle cx="142.1" cy="195.9" r="1.35"/><circle cx="146.2" cy="195.9" r="1.35"/><circle cx="150.3" cy="195.9" r="1.35"/><circle cx="154.3" cy="195.9" r="1.35"/><circle cx="158.4" cy="195.9" r="1.35"/>
</g>
<g fill="#ffa040" stroke="#ff8000" stroke-width="1.2">
<circle cx="140.1" cy="54.1" r="1.35"/><circle cx="144.2" cy="54.1" r="1.35"/><circle cx="148.2" cy="54.1" r="1.35"/><circle cx="152.3" cy="54.1" r="1.35"/><circle cx="125.8" cy="57.5" r="1.35"/><circle cx="129.9" cy="57.5" r="1.35"/><circle cx="146.2" cy="57.5" r="1.35"/><circle cx="162.5" cy="57.5" r="1.35"/><circle cx="166.5" cy="57.5" r="1.35"/><circle cx="115.7" cy="61.0" r="1.35"/><circle cx="119.7" cy="61.0" r="1.35"/><circle cx="127.9" cy="61.0" r="1.35"/><circle cx="132.0" cy="61.0" r="1.35"/><circle cx="136.0" cy="61.0" r="1.35"/><circle cx="140.1" cy="61.0" r="1.35"/><circle cx="144.2" cy="61.0" r="1.35"/><circle cx="148.2" cy="61.0" r="1.35"/><circle cx="152.3" cy="61.0" r="1.35"/><circle cx="156.4" cy="61.0" r="1.35"/><circle cx="160.4" cy="61.0" r="1.35"/><circle cx="164.5" cy="61.0" r="1.35"/><circle cx="172.7" cy="61.0" r="1.35"/><circle cx="176.7" cy="61.0" r="1.35"/><circle cx="109.6" cy="64.4" r="1.35"/><circle cx="117.7" cy="64.4" r="1.35"/><circle cx="121.8" cy="64.4" r="1.35"/><circle cx="125.8" cy="64.4" r="1.35"/><circle cx="129.9" cy="64.4" r="1.35"/><circle cx="162.5" cy="64.4" r="1.35"/><circle cx="166.5" cy="64.4" r="1.35"/><circle cx="170.6" cy="64.4" r="1.35"/><circle cx="174.7" cy="64.4" r="1.35"/><circle cx="182.8" cy="64.4" r="1.35"/><circle cx="107.5" cy="67.9" r="1.35"/><circle cx="111.6" cy="67.9" r="1.35"/><circle cx="115.7" cy="67.9" r="1.35"/><circle cx="119.7" cy="67.9" r="1.35"/><circle cx="172.7" cy="67.9" r="1.35"/><circle cx="176.7" cy="67.9" r="1.35"/><circle cx="180.8" cy="67.9" r="1.35"/><circle cx="184.9" cy="67.9" r="1.35"/><circle cx="101.4" cy="71.4" r="1.35"/><circle cx="109.6" cy="71.4" r="1.35"/><circle cx="113.6" cy="71.4" r="1.35"/><circle cx="178.8" cy="71.4" r="1.35"/><circle cx="182.8" cy="71.4" r="1.35"/><circle cx="191.0" cy="71.4" r="1.35"/><circle cx="99.4" cy="74.8" r="1.35"/><circle cx="103.5" cy="74.8" r="1.35"/><circle cx="107.5" cy="74.8" r="1.35"/><circle cx="184.9" cy="74.8" r="1.35"/><circle cx="188.9" cy="74.8" r="1.35"/><circle cx="193.0" cy="74.8" r="1.35"/><circle cx="93.3" cy="78.3" r="1.35"/><circle cx="101.4" cy="78.3" r="1.35"/><circle cx="105.5" cy="78.3" r="1.35"/><circle cx="186.9" cy="78.3" r="1.35"/><circle cx="191.0" cy="78.3" r="1.35"/><circle cx="199.1" cy="78.3" r="1.35"/><circle cx="99.4" cy="81.7" r="1.35"/><circle cx="193.0" cy="81.7" r="1.35"/><circle cx="87.2" cy="88.7" r="1.35"/><circle cx="91.3" cy="88.7" r="1.35"/><circle cx="95.3" cy="88.7" r="1.35"/><circle cx="197.1" cy="88.7" r="1.35"/><circle cx="201.1" cy="88.7" r="1.35"/><circle cx="205.2" cy="88.7" r="1.35"/><circle cx="83.1" cy="102.5" r="1.35"/><circle cx="87.2" cy="102.5" r="1.35"/><circle cx="205.2" cy="102.5" r="1.35"/><circle cx="209.3" cy="102.5" r="1.35"/><circle cx="81.1" cy="106.0" r="1.35"/><circle cx="85.1" cy="106.0" r="1.35"/><circle cx="89.2" cy="106.0" r="1.35"/><circle cx="203.2" cy="106.0" r="1.35"/><circle cx="207.2" cy="106.0" r="1.35"/><circle cx="211.3" cy="106.0" r="1.35"/><circle cx="81.1" cy="112.9" r="1.35"/><circle cx="85.1" cy="112.9" r="1.35"/><circle cx="207.2" cy="112.9" r="1.35"/><circle cx="211.3" cy="112.9" r="1.35"/><circle cx="79.0" cy="116.3" r="1.35"/><circle cx="83.1" cy="116.3" r="1.35"/><circle cx="87.2" cy="116.3" r="1.35"/><circle cx="205.2" cy="116.3" r="1.35"/><circle cx="209.3" cy="116.3" r="1.35"/><circle cx="213.4" cy="116.3" r="1.35"/><circle cx="79.0" cy="123.3" r="1.35"/><circle cx="83.1" cy="123.3" r="1.35"/><circle cx="87.2" cy="123.3" r="1.35"/><circle cx="205.2" cy="123.3" r="1.35"/><circle cx="209.3" cy="123.3" r="1.35"/><circle cx="213.4" cy="123.3" r="1.35"/><circle cx="81.1" cy="126.7" r="1.35"/><circle cx="85.1" cy="126.7" r="1.35"/><circle cx="207.2" cy="126.7" r="1.35"/><circle cx="211.3" cy="126.7" r="1.35"/><circle cx="81.1" cy="133.6" r="1.35"/><circle cx="85.1" cy="133.6" r="1.35"/><circle cx="89.2" cy="133.6" r="1.35"/><circle cx="203.2" cy="133.6" r="1.35"/><circle cx="207.2" cy="133.6" r="1.35"/><circle cx="211.3" cy="133.6" r="1.35"/><circle cx="83.1" cy="137.1" r="1.35"/><circle cx="87.2" cy="137.1" r="1.35"/><circle cx="205.2" cy="137.1" r="1.35"/><circle cx="209.3" cy="137.1" r="1.35"/><circle cx="87.2" cy="150.9" r="1.35"/><circle cx="91.3" cy="150.9" r="1.35"/><circle cx="95.3" cy="150.9" r="1.35"/><circle cx="197.1" cy="150.9" r="1.35"/><circle cx="201.1" cy="150.9" r="1.35"/><circle cx="205.2" cy="150.9" r="1.35"/><circle cx="99.4" cy="157.9" r="1.35"/><circle cx="193.0" cy="157.9" r="1.35"/><circle cx="93.3" cy="161.3" r="1.35"/><circle cx="101.4" cy="161.3" r="1.35"/><circle cx="105.5" cy="161.3" r="1.35"/><circle cx="186.9" cy="161.3" r="1.35"/><circle cx="191.0" cy="161.3" r="1.35"/><circle cx="199.1" cy="161.3" r="1.35"/><circle cx="99.4" cy="164.8" r="1.35"/><circle cx="103.5" cy="164.8" r="1.35"/><circle cx="107.5" cy="164.8" r="1.35"/><circle cx="184.9" cy="164.8" r="1.35"/><circle cx="188.9" cy="164.8" r="1.35"/><circle cx="193.0" cy="164.8" r="1.35"/><circle cx="101.4" cy="168.2" r="1.35"/><circle cx="109.6" cy="168.2" r="1.35"/><circle cx="113.6" cy="168.2" r="1.35"/><circle cx="178.8" cy="168.2" r="1.35"/><circle cx="182.8" cy="168.2" r="1.35"/><circle cx="191.0" cy="168.2" r="1.35"/><circle cx="107.5" cy="171.7" r="1.35"/><circle cx="111.6" cy="171.7" r="1.35"/><circle cx="115.7" cy="171.7" r="1.35"/><circle cx="119.7" cy="171.7" r="1.35"/><circle cx="172.7" cy="171.7" r="1.35"/><circle cx="176.7" cy="171.7" r="1.35"/><circle cx="180.8" cy="171.7" r="1.35"/><circle cx="184.9" cy="171.7" r="1.35"/><circle cx="109.6" cy="175.2" r="1.35"/><circle cx="117.7" cy="175.2" r="1.35"/><circle cx="121.8" cy="175.2" r="1.35"/><circle cx="125.8" cy="175.2" r="1.35"/><circle cx="129.9" cy="175.2" r="1.35"/><circle cx="162.5" cy="175.2" r="1.35"/><circle cx="166.5" cy="175.2" r="1.35"/><circle cx="170.6" cy="175.2" r="1.35"/><circle cx="174.7" cy="175.2" r="1.35"/><circle cx="182.8" cy="175.2" r="1.35"/><circle cx="115.7" cy="178.6" r="1.35"/><circle cx="119.7" cy="178.6" r="1.35"/><circle cx="127.9" cy="178.6" r="1.35"/><circle cx="132.0" cy="178.6" r="1.35"/><circle cx="136.0" cy="178.6" r="1.35"/><circle cx="140.1" cy="178.6" r="1.35"/><circle cx="144.2" cy="178.6" r="1.35"/><circle cx="148.2" cy="178.6" r="1.35"/><circle cx="152.3" cy="178.6" r="1.35"/><circle cx="156.4" cy="178.6" r="1.35"/><circle cx="160.4" cy="178.6" r="1.35"/><circle cx="164.5" cy="178.6" r="1.35"/><circle cx="172.7" cy="178.6" r="1.35"/><circle cx="176.7" cy="178.6" r="1.35"/><circle cx="125.8" cy="182.1" r="1.35"/><circle cx="129.9" cy="182.1" r="1.35"/><circle cx="146.2" cy="182.1" r="1.35"/><circle cx="162.5" cy="182.1" r="1.35"/><circle cx="166.5" cy="182.1" r="1.35"/><circle cx="140.1" cy="185.5" r="1.35"/><circle cx="144.2" cy="185.5" r="1.35"/><circle cx="148.2" cy="185.5" r="1.35"/><circle cx="152.3" cy="185.5" r="1.35"/>
</g>
<g fill="#ffff30" stroke="#ffff00" stroke-width="1.2">
<circle cx="134.0" cy="57.5" r="1.35"/><circle cx="138.1" cy="57.5" r="1.35"/><circle cx="154.3" cy="57.5" r="1.35"/><circle cx="158.4" cy="57.5" r="1.35"/><circle cx="178.8" cy="64.4" r="1.35"/><circle cx="97.4" cy="78.3" r="1.35"/><circle cx="195.0" cy="78.3" r="1.35"/><circle cx="95.3" cy="81.7" r="1.35"/><circle cx="197.1" cy="81.7" r="1.35"/><circle cx="87.2" cy="95.6" r="1.35"/><circle cx="205.2" cy="95.6" r="1.35"/><circle cx="85.1" cy="99.0" r="1.35"/><circle cx="207.2" cy="99.0" r="1.35"/><circle cx="81.1" cy="119.8" r="1.35"/><circle cx="85.1" cy="140.6" r="1.35"/><circle cx="207.2" cy="140.6" r="1.35"/><circle cx="87.2" cy="144.0" r="1.35"/><circle cx="205.2" cy="144.0" r="1.35"/><circle cx="95.3" cy="157.9" r="1.35"/><circle cx="197.1" cy="157.9" r="1.35"/><circle cx="97.4" cy="161.3" r="1.35"/><circle cx="195.0" cy="161.3" r="1.35"/><circle cx="134.0" cy="182.1" r="1.35"/><circle cx="138.1" cy="182.1" r="1.35"/><circle cx="154.3" cy="182.1" r="1.35"/><circle cx="158.4" cy="182.1" r="1.35"/>
</g>
<g fill="#a0ff30" stroke="#80ff00" stroke-width="1.2">
<circle cx="142.1" cy="57.5" r="1.35"/><circle cx="150.3" cy="57.5" r="1.35"/><circle cx="113.6" cy="64.4" r="1.35"/><circle cx="93.3" cy="85.2" r="1.35"/><circle cx="199.1" cy="85.2" r="1.35"/><circle cx="89.2" cy="92.1" r="1.35"/><circle cx="203.2" cy="92.1" r="1.35"/><circle cx="211.3" cy="119.8" r="1.35"/><circle cx="89.2" cy="147.5" r="1.35"/><circle cx="203.2" cy="147.5" r="1.35"/><circle cx="93.3" cy="154.4" r="1.35"/><circle cx="199.1" cy="154.4" r="1.35"/><circle cx="113.6" cy="175.2" r="1.35"/><circle cx="178.8" cy="175.2" r="1.35"/><circle cx="142.1" cy="182.1" r="1.35"/><circle cx="150.3" cy="182.1" r="1.35"/>
</g>
<g fill="#30ff40" stroke="#00ff00" stroke-width="1.2">
<circle cx="123.8" cy="61.0" r="1.35"/><circle cx="168.6" cy="61.0" r="1.35"/><circle cx="105.5" cy="71.4" r="1.35"/><circle cx="186.9" cy="71.4" r="1.35"/><circle cx="83.1" cy="109.4" r="1.35"/><circle cx="209.3" cy="109.4" r="1.35"/><circle cx="83.1" cy="130.2" r="1.35"/><circle cx="209.3" cy="130.2" r="1.35"/><circle cx="105.5" cy="168.2" r="1.35"/><circle cx="186.9" cy="168.2" r="1.35"/><circle cx="123.8" cy="178.6" r="1.35"/><circle cx="168.6" cy="178.6" r="1.35"/>
</g>
<rect x="50.3" y="27.3" width="191.50" height="185.70" fill="none" stroke="#000" stroke-width="3"/>
<path d="M82.22 27.3 v4.1 M82.22 213.0 v-4.1 M50.3 182.05 h4.1 M241.8 182.05 h-4.1 M114.13 27.3 v4.1 M114.13 213.0 v-4.1 M50.3 151.10 h4.1 M241.8 151.10 h-4.1 M146.05 27.3 v4.1 M146.05 213.0 v-4.1 M50.3 120.15 h4.1 M241.8 120.15 h-4.1 M177.97 27.3 v4.1 M177.97 213.0 v-4.1 M50.3 89.20 h4.1 M241.8 89.20 h-4.1 M209.88 27.3 v4.1 M209.88 213.0 v-4.1 M50.3 58.25 h4.1 M241.8 58.25 h-4.1" stroke="#000" stroke-width="2.6" fill="none"/>
<text x="46.70" y="217.00" font-size="15.5" text-anchor="end">-60</text>
<text x="49.90" y="229.40" font-size="15.5" text-anchor="middle">-60</text>
<text x="46.70" y="186.05" font-size="15.5" text-anchor="end">-40</text>
<text x="81.82" y="229.40" font-size="15.5" text-anchor="middle">-40</text>
<text x="46.70" y="155.10" font-size="15.5" text-anchor="end">-20</text>
<text x="113.73" y="229.40" font-size="15.5" text-anchor="middle">-20</text>
<text x="46.70" y="124.15" font-size="15.5" text-anchor="end">0</text>
<text x="146.05" y="229.40" font-size="15.5" text-anchor="middle">0</text>
<text x="46.70" y="93.20" font-size="15.5" text-anchor="end">20</text>
<text x="177.97" y="229.40" font-size="15.5" text-anchor="middle">20</text>
<text x="46.70" y="62.25" font-size="15.5" text-anchor="end">40</text>
<text x="209.88" y="229.40" font-size="15.5" text-anchor="middle">40</text>
<text x="46.70" y="31.30" font-size="15.5" text-anchor="end">60</text>
<text x="241.80" y="229.40" font-size="15.5" text-anchor="middle">60</text>
<text x="24.30" y="120.40" font-size="20" text-anchor="middle" transform="rotate(-90 24.30 120.40)">Y/Å</text>
<text x="151.80" y="249.50" font-size="20" text-anchor="middle">X/Å</text>
<text x="147.80" y="20.70" font-size="20.5" text-anchor="middle">(a)</text>
<rect x="245.7" y="42.60" width="8.20" height="17.16" fill="#c0c0c0"/>
<rect x="245.7" y="59.46" width="8.20" height="17.16" fill="#0000ff"/>
<rect x="245.7" y="76.32" width="8.20" height="17.16" fill="#0080ff"/>
<rect x="245.7" y="93.18" width="8.20" height="17.16" fill="#00ffff"/>
<rect x="245.7" y="110.04" width="8.20" height="17.16" fill="#00ff00"/>
<rect x="245.7" y="126.90" width="8.20" height="17.16" fill="#80ff00"/>
<rect x="245.7" y="143.76" width="8.20" height="17.16" fill="#ffff00"/>
<rect x="245.7" y="160.62" width="8.20" height="17.16" fill="#ff8000"/>
<rect x="245.7" y="177.48" width="8.20" height="17.16" fill="#ff0000"/>
<rect x="245.7" y="194.34" width="8.20" height="17.16" fill="#000000"/>
<text x="258.90" y="64.36" font-size="15" text-anchor="start" textLength="34.76" lengthAdjust="spacingAndGlyphs">5.960</text>
<text x="258.90" y="81.22" font-size="15" text-anchor="start" textLength="34.76" lengthAdjust="spacingAndGlyphs">5.193</text>
<text x="258.90" y="98.08" font-size="15" text-anchor="start" textLength="34.76" lengthAdjust="spacingAndGlyphs">4.425</text>
<text x="258.90" y="114.94" font-size="15" text-anchor="start" textLength="34.76" lengthAdjust="spacingAndGlyphs">3.658</text>
<text x="258.90" y="131.80" font-size="15" text-anchor="start" textLength="34.76" lengthAdjust="spacingAndGlyphs">2.890</text>
<text x="258.90" y="148.66" font-size="15" text-anchor="start" textLength="34.76" lengthAdjust="spacingAndGlyphs">2.123</text>
<text x="258.90" y="165.52" font-size="15" text-anchor="start" textLength="34.76" lengthAdjust="spacingAndGlyphs">1.355</text>
<text x="258.90" y="182.38" font-size="15" text-anchor="start" textLength="42.49" lengthAdjust="spacingAndGlyphs">0.5875</text>
<text x="258.90" y="199.24" font-size="15" text-anchor="start" textLength="46.69" lengthAdjust="spacingAndGlyphs">-0.1800</text>
<text x="253.70" y="20.90" font-size="14.4" text-anchor="start" textLength="52.60" lengthAdjust="spacingAndGlyphs">Binding</text>
<text x="244.50" y="40.10" font-size="14.4" text-anchor="start" textLength="73.00" lengthAdjust="spacingAndGlyphs">energy(eV)</text>
</g>
<g id="panel-b">
<rect x="43.2" y="399.7" width="77.30" height="32.5" fill="#bebebe" stroke="#f05050" stroke-width="1"/>
<path d="M41.7 417.70H235.2" stroke="#464646" stroke-width="1.5"/>
<path d="M41.7 419.30H235.2" stroke="#f01c28" stroke-width="1.2"/>
<g fill="#fff" stroke="#f01c28" stroke-width="1.2"><circle cx="44.35" cy="418.00" r="1.5"/><circle cx="49.66" cy="418.00" r="1.5"/><circle cx="54.97" cy="418.00" r="1.5"/><circle cx="60.28" cy="418.00" r="1.5"/><circle cx="65.59" cy="418.00" r="1.5"/><circle cx="70.90" cy="418.00" r="1.5"/><circle cx="76.21" cy="418.00" r="1.5"/><circle cx="81.52" cy="418.00" r="1.5"/><circle cx="86.83" cy="418.00" r="1.5"/><circle cx="92.14" cy="418.00" r="1.5"/><circle cx="97.45" cy="418.00" r="1.5"/><circle cx="102.76" cy="418.00" r="1.5"/><circle cx="108.07" cy="418.00" r="1.5"/><circle cx="113.38" cy="418.00" r="1.5"/><circle cx="118.69" cy="418.00" r="1.5"/><circle cx="124.00" cy="418.00" r="1.5"/><circle cx="129.31" cy="418.00" r="1.5"/><circle cx="134.62" cy="418.00" r="1.5"/><circle cx="139.93" cy="418.00" r="1.5"/><circle cx="145.24" cy="418.00" r="1.5"/><circle cx="150.55" cy="418.00" r="1.5"/><circle cx="155.86" cy="418.00" r="1.5"/><circle cx="161.17" cy="418.00" r="1.5"/><circle cx="166.48" cy="418.00" r="1.5"/><circle cx="171.79" cy="418.00" r="1.5"/><circle cx="177.10" cy="418.00" r="1.5"/><circle cx="182.41" cy="418.00" r="1.5"/><circle cx="187.72" cy="418.00" r="1.5"/><circle cx="193.03" cy="418.00" r="1.5"/><circle cx="198.34" cy="418.00" r="1.5"/><circle cx="203.65" cy="418.00" r="1.5"/><circle cx="208.96" cy="418.00" r="1.5"/><circle cx="214.27" cy="418.00" r="1.5"/><circle cx="219.58" cy="418.00" r="1.5"/><circle cx="224.89" cy="418.00" r="1.5"/><circle cx="230.20" cy="418.00" r="1.5"/></g>
<path d="M41.7 418.30H235.2" stroke="#1464f0" stroke-width="2"/>
<g fill="#fff" stroke="#1464f0" stroke-width="1.1" stroke-linejoin="miter"><path d="M39.45 418.82L41.70 414.02L43.95 418.82Z"/><path d="M44.76 418.82L47.01 414.02L49.26 418.82Z"/><path d="M50.07 418.82L52.32 414.02L54.57 418.82Z"/><path d="M55.38 418.82L57.63 414.02L59.88 418.82Z"/><path d="M60.69 418.82L62.94 414.02L65.19 418.82Z"/><path d="M66.00 418.82L68.25 414.02L70.50 418.82Z"/><path d="M71.31 418.82L73.56 414.02L75.81 418.82Z"/><path d="M76.62 418.82L78.87 414.02L81.12 418.82Z"/><path d="M81.93 418.82L84.18 414.02L86.43 418.82Z"/><path d="M87.24 418.82L89.49 414.02L91.74 418.82Z"/><path d="M92.55 418.82L94.80 414.02L97.05 418.82Z"/><path d="M97.86 418.82L100.11 414.02L102.36 418.82Z"/><path d="M103.17 418.82L105.42 414.02L107.67 418.82Z"/><path d="M108.48 418.82L110.73 414.02L112.98 418.82Z"/><path d="M113.79 418.82L116.04 414.02L118.29 418.82Z"/><path d="M119.10 418.82L121.35 414.02L123.60 418.82Z"/><path d="M124.41 418.82L126.66 414.02L128.91 418.82Z"/><path d="M129.72 418.82L131.97 414.02L134.22 418.82Z"/><path d="M135.03 418.82L137.28 414.02L139.53 418.82Z"/><path d="M140.34 418.82L142.59 414.02L144.84 418.82Z"/><path d="M145.65 418.82L147.90 414.02L150.15 418.82Z"/><path d="M150.96 418.82L153.21 414.02L155.46 418.82Z"/><path d="M156.27 418.82L158.52 414.02L160.77 418.82Z"/><path d="M161.58 418.82L163.83 414.02L166.08 418.82Z"/><path d="M166.89 418.82L169.14 414.02L171.39 418.82Z"/><path d="M172.20 418.82L174.45 414.02L176.70 418.82Z"/><path d="M177.51 418.82L179.76 414.02L182.01 418.82Z"/><path d="M182.82 418.82L185.07 414.02L187.32 418.82Z"/><path d="M188.13 418.82L190.38 414.02L192.63 418.82Z"/><path d="M193.44 418.82L195.69 414.02L197.94 418.82Z"/><path d="M198.75 418.82L201.00 414.02L203.25 418.82Z"/><path d="M204.06 418.82L206.31 414.02L208.56 418.82Z"/><path d="M209.37 418.82L211.62 414.02L213.87 418.82Z"/><path d="M214.68 418.82L216.93 414.02L219.18 418.82Z"/><path d="M219.99 418.82L222.24 414.02L224.49 418.82Z"/><path d="M225.30 418.82L227.55 414.02L229.80 418.82Z"/><path d="M230.61 418.82L232.86 414.02L235.11 418.82Z"/></g>
<rect x="41.7" y="298.0" width="193.50" height="141.70" fill="none" stroke="#000" stroke-width="2.6"/>
<path d="M61.05 439.7 v-2.6 M80.40 439.7 v-3.8 M99.75 439.7 v-2.6 M119.10 439.7 v-3.8 M138.45 439.7 v-2.6 M157.80 439.7 v-3.8 M177.15 439.7 v-2.6 M196.50 439.7 v-3.8 M215.85 439.7 v-2.6 M41.7 393.10 h3.8 M41.7 369.40 h3.8 M41.7 345.70 h3.8 M41.7 322.00 h3.8 M54.95 298.0 v3.4 M69.40 298.0 v3.4 M83.85 298.0 v3.4 M98.30 298.0 v3.4 M112.75 298.0 v3.4 M127.20 298.0 v3.4 M141.65 298.0 v3.4 M156.10 298.0 v3.4 M170.55 298.0 v3.4 M185.00 298.0 v3.4 M199.45 298.0 v3.4 M213.90 298.0 v3.4 M228.35 298.0 v3.4 M235.2 302.00 h-3.4 M235.2 312.60 h-3.4 M235.2 323.20 h-3.4 M235.2 333.80 h-3.4 M235.2 344.40 h-3.4 M235.2 355.00 h-3.4 M235.2 365.60 h-3.4 M235.2 376.20 h-3.4 M235.2 386.80 h-3.4 M235.2 397.40 h-3.4 M235.2 408.00 h-3.4 M235.2 418.60 h-3.4 M235.2 429.20 h-3.4" stroke="#000" stroke-width="2" fill="none"/>
<text x="38.60" y="420.90" font-size="12.5" text-anchor="end">0.0</text>
<text x="38.60" y="397.20" font-size="12.5" text-anchor="end">0.5</text>
<text x="38.60" y="373.50" font-size="12.5" text-anchor="end">1.0</text>
<text x="38.60" y="349.80" font-size="12.5" text-anchor="end">1.5</text>
<text x="38.60" y="326.10" font-size="12.5" text-anchor="end">2.0</text>
<text x="38.60" y="302.40" font-size="12.5" text-anchor="end">2.5</text>
<text x="41.70" y="453.40" font-size="12.5" text-anchor="middle">0</text>
<text x="80.40" y="453.40" font-size="12.5" text-anchor="middle">20</text>
<text x="119.10" y="453.40" font-size="12.5" text-anchor="middle">40</text>
<text x="157.80" y="453.40" font-size="12.5" text-anchor="middle">60</text>
<text x="196.50" y="453.40" font-size="12.5" text-anchor="middle">80</text>
<text x="235.20" y="453.40" font-size="12.5" text-anchor="middle">100</text>
<text x="138.40" y="468.50" font-size="15.5" text-anchor="middle" textLength="212.00" lengthAdjust="spacingAndGlyphs">Distance from the habit plane/Å</text>
<text x="17.40" y="365.50" font-size="15.2" text-anchor="middle" transform="rotate(-90 17.40 365.50)" textLength="131.00" lengthAdjust="spacingAndGlyphs">Binding Energy(eV)</text>
<text x="136.40" y="292.80" font-size="17" text-anchor="middle">(b)</text>
<path d="M175.9 375.0H181.2M187.2 375.0H192.3" stroke="#464646" stroke-width="1.8"/>
<g fill="#fff" stroke="#464646" stroke-width="1.3"><rect x="182.20" y="373.00" width="4.0" height="4.0"/></g>
<text x="195.50" y="378.20" font-size="10" text-anchor="start" textLength="30.00" lengthAdjust="spacingAndGlyphs">R=40Å</text>
<path d="M175.9 387.6H181.2M187.2 387.6H192.3" stroke="#f01c28" stroke-width="1.8"/>
<g fill="#fff" stroke="#f01c28" stroke-width="1.4"><circle cx="184.20" cy="387.60" r="2.1"/></g>
<text x="195.50" y="390.80" font-size="10" text-anchor="start" textLength="30.00" lengthAdjust="spacingAndGlyphs">R=50Å</text>
<path d="M175.9 400.0H181.2M187.2 400.0H192.3" stroke="#1464f0" stroke-width="1.8"/>
<g fill="#fff" stroke="#1464f0" stroke-width="1.25" stroke-linejoin="miter"><path d="M181.70 402.08L184.20 397.38L186.70 402.08Z"/></g>
<text x="195.50" y="403.20" font-size="10" text-anchor="start" textLength="30.00" lengthAdjust="spacingAndGlyphs">R=60Å</text>
<path d="M64.4 395.8L71.4 386.0" stroke="#ff0000" stroke-width="2"/>
<path d="M76.9 378.3L68.4 385.1L73.1 388.4Z" fill="#ff0000"/>
<rect x="77.9" y="307.1" width="77.10" height="57.20" fill="#fff"/>
<path d="M78.90 360.02 L84.14 359.70 L89.38 358.88 L94.62 356.91 L99.86 354.79 L105.10 352.00 L110.34 349.06 L115.58 345.95 L120.82 343.33 L126.06 341.04 L131.30 339.40 L136.54 338.09 L141.78 336.95 L147.02 335.80 L152.26 334.49" stroke="#464646" stroke-width="1" fill="none"/>
<g fill="#5a5a5a" stroke="#464646" stroke-width="1.0"><rect x="77.30" y="358.42" width="3.2" height="3.2"/><rect x="82.54" y="358.10" width="3.2" height="3.2"/><rect x="87.78" y="357.28" width="3.2" height="3.2"/><rect x="93.02" y="355.31" width="3.2" height="3.2"/><rect x="98.26" y="353.19" width="3.2" height="3.2"/><rect x="103.50" y="350.40" width="3.2" height="3.2"/><rect x="108.74" y="347.46" width="3.2" height="3.2"/><rect x="113.98" y="344.35" width="3.2" height="3.2"/><rect x="119.22" y="341.73" width="3.2" height="3.2"/><rect x="124.46" y="339.44" width="3.2" height="3.2"/><rect x="129.70" y="337.80" width="3.2" height="3.2"/><rect x="134.94" y="336.49" width="3.2" height="3.2"/><rect x="140.18" y="335.35" width="3.2" height="3.2"/><rect x="145.42" y="334.20" width="3.2" height="3.2"/><rect x="150.66" y="332.89" width="3.2" height="3.2"/></g>
<path d="M78.90 347.91 L84.14 347.75 L89.38 347.26 L94.62 346.60 L99.86 345.95 L105.10 344.97 L110.34 343.66 L115.58 342.18 L120.82 341.04 L126.06 339.73 L131.30 338.58 L136.54 337.44 L141.78 336.46 L147.02 335.47 L152.26 334.33" stroke="#f01c28" stroke-width="1" fill="none"/>
<g fill="#ff8a8a" stroke="#f01c28" stroke-width="1.1"><circle cx="78.90" cy="347.91" r="1.7"/><circle cx="84.14" cy="347.75" r="1.7"/><circle cx="89.38" cy="347.26" r="1.7"/><circle cx="94.62" cy="346.60" r="1.7"/><circle cx="99.86" cy="345.95" r="1.7"/><circle cx="105.10" cy="344.97" r="1.7"/><circle cx="110.34" cy="343.66" r="1.7"/><circle cx="115.58" cy="342.18" r="1.7"/><circle cx="120.82" cy="341.04" r="1.7"/><circle cx="126.06" cy="339.73" r="1.7"/><circle cx="131.30" cy="338.58" r="1.7"/><circle cx="136.54" cy="337.44" r="1.7"/><circle cx="141.78" cy="336.46" r="1.7"/><circle cx="147.02" cy="335.47" r="1.7"/><circle cx="152.26" cy="334.33" r="1.7"/></g>
<path d="M78.90 340.80 L84.14 340.64 L89.38 340.48 L94.62 340.31 L99.86 339.98 L105.10 339.49 L110.34 339.00 L115.58 338.51 L120.82 338.02 L126.06 337.37 L131.30 336.55 L136.54 335.89 L141.78 335.24 L147.02 334.42 L152.26 333.60" stroke="#1464f0" stroke-width="1.8" fill="none"/>
<g fill="#1464f0" stroke="#1464f0" stroke-width="1.0" stroke-linejoin="miter"><path d="M76.60 341.28L78.90 336.58L81.20 341.28Z"/><path d="M81.84 341.12L84.14 336.42L86.44 341.12Z"/><path d="M87.08 340.96L89.38 336.26L91.68 340.96Z"/><path d="M92.32 340.79L94.62 336.09L96.92 340.79Z"/><path d="M97.56 340.46L99.86 335.76L102.16 340.46Z"/><path d="M102.80 339.97L105.10 335.27L107.40 339.97Z"/><path d="M108.04 339.48L110.34 334.78L112.64 339.48Z"/><path d="M113.28 338.99L115.58 334.29L117.88 338.99Z"/><path d="M118.52 338.50L120.82 333.80L123.12 338.50Z"/><path d="M123.76 337.85L126.06 333.15L128.36 337.85Z"/><path d="M129.00 337.03L131.30 332.33L133.60 337.03Z"/><path d="M134.24 336.37L136.54 331.67L138.84 336.37Z"/><path d="M139.48 335.72L141.78 331.02L144.08 335.72Z"/><path d="M144.72 334.90L147.02 330.20L149.32 334.90Z"/><path d="M149.96 334.08L152.26 329.38L154.56 334.08Z"/></g>
<rect x="77.9" y="307.1" width="77.10" height="57.20" fill="none" stroke="#000" stroke-width="2.5"/>
<path d="M81.76 307.1 v2.0 M81.76 364.3 v-2.0 M85.61 307.1 v2.0 M85.61 364.3 v-2.0 M89.47 307.1 v2.0 M89.47 364.3 v-2.0 M93.32 307.1 v2.0 M93.32 364.3 v-2.0 M97.18 307.1 v2.0 M97.18 364.3 v-2.0 M101.03 307.1 v2.0 M101.03 364.3 v-2.0 M104.89 307.1 v2.0 M104.89 364.3 v-2.0 M108.74 307.1 v2.0 M108.74 364.3 v-2.0 M112.59 307.1 v2.0 M112.59 364.3 v-2.0 M116.45 307.1 v2.0 M116.45 364.3 v-2.0 M120.31 307.1 v2.0 M120.31 364.3 v-2.0 M124.16 307.1 v2.0 M124.16 364.3 v-2.0 M128.01 307.1 v2.0 M128.01 364.3 v-2.0 M131.87 307.1 v2.0 M131.87 364.3 v-2.0 M135.72 307.1 v2.0 M135.72 364.3 v-2.0 M139.58 307.1 v2.0 M139.58 364.3 v-2.0 M143.44 307.1 v2.0 M143.44 364.3 v-2.0 M147.29 307.1 v2.0 M147.29 364.3 v-2.0 M151.14 307.1 v2.0 M151.14 364.3 v-2.0 M77.9 361.12 h2.0 M155.0 361.12 h-2.0 M77.9 357.20 h2.0 M155.0 357.20 h-2.0 M77.9 353.28 h2.0 M155.0 353.28 h-2.0 M77.9 349.35 h2.0 M155.0 349.35 h-2.0 M77.9 345.43 h2.0 M155.0 345.43 h-2.0 M77.9 341.50 h2.0 M155.0 341.50 h-2.0 M77.9 337.58 h2.0 M155.0 337.58 h-2.0 M77.9 333.65 h2.0 M155.0 333.65 h-2.0 M77.9 329.73 h2.0 M155.0 329.73 h-2.0 M77.9 325.80 h2.0 M155.0 325.80 h-2.0 M77.9 321.88 h2.0 M155.0 321.88 h-2.0 M77.9 317.95 h2.0 M155.0 317.95 h-2.0 M77.9 314.03 h2.0 M155.0 314.03 h-2.0 M77.9 310.10 h2.0 M155.0 310.10 h-2.0" stroke="#000" stroke-width="0.9" fill="none"/>
<text x="78.20" y="374.50" font-size="10" text-anchor="middle">0</text>
<text x="97.48" y="374.50" font-size="10" text-anchor="middle">10</text>
<text x="116.75" y="374.50" font-size="10" text-anchor="middle">20</text>
<text x="136.03" y="374.50" font-size="10" text-anchor="middle">30</text>
<text x="155.30" y="374.50" font-size="10" text-anchor="middle">40</text>
<text x="76.20" y="313.50" font-size="9.5" text-anchor="end">0.00</text>
<text x="76.20" y="329.20" font-size="9.5" text-anchor="end">-0.01</text>
<text x="76.20" y="344.90" font-size="9.5" text-anchor="end">-0.02</text>
<text x="76.20" y="360.60" font-size="9.5" text-anchor="end">-0.03</text>
</g>
<g id="panel-c">
<path d="M340.22 310.23L343.28 314.67M347.67 325.92L350.36 334.94M352.01 341.43L353.48 348.37M355.15 356.20L357.01 364.97M358.25 371.55L360.70 386.45M361.84 393.36L363.46 403.24M365.33 409.63L369.31 418.96" stroke="#464646" stroke-width="1.6" fill="none"/>
<path d="M377.2 426.6H530.0" stroke="#464646" stroke-width="1.5"/>
<path d="M337.28 374.98L344.22 374.12M349.39 374.03L350.91 374.17M356.09 374.67L357.61 374.83M360.56 378.00L361.25 383.50M362.38 392.60L363.67 403.00M364.49 409.60L365.61 418.60M368.40 422.71L370.00 423.39" stroke="#f01c28" stroke-width="1.8" fill="none"/>
<path d="M372.4 427.7H530.0" stroke="#f01c28" stroke-width="1.6"/>
<path d="M364.93 393.30L366.11 400.80M367.61 410.30L368.88 418.40" stroke="#1464f0" stroke-width="1.9" fill="none"/>
<path d="M382.2 426.9H530.0" stroke="#1464f0" stroke-width="1.9"/>
<g fill="#fff" stroke="#464646" stroke-width="1.3"><rect x="336.40" y="305.60" width="4.0" height="4.0"/><rect x="343.10" y="315.30" width="4.0" height="4.0"/><rect x="349.30" y="336.10" width="4.0" height="4.0"/><rect x="355.70" y="366.20" width="4.0" height="4.0"/><rect x="362.00" y="404.50" width="4.0" height="4.0"/><rect x="368.60" y="420.00" width="4.0" height="4.0"/></g>
<g fill="#fff" stroke="#f01c28" stroke-width="1.4"><circle cx="334.70" cy="375.30" r="2.1"/><circle cx="346.80" cy="373.80" r="2.1"/><circle cx="353.50" cy="374.40" r="2.1"/><circle cx="360.20" cy="375.10" r="2.1"/><circle cx="366.00" cy="421.70" r="2.1"/><circle cx="372.40" cy="424.40" r="2.1"/><circle cx="379.08" cy="425.80" r="2.1"/><circle cx="385.76" cy="425.80" r="2.1"/><circle cx="392.44" cy="425.80" r="2.1"/><circle cx="399.12" cy="425.80" r="2.1"/><circle cx="405.80" cy="425.80" r="2.1"/><circle cx="412.48" cy="425.80" r="2.1"/><circle cx="419.16" cy="425.80" r="2.1"/><circle cx="425.84" cy="425.80" r="2.1"/><circle cx="432.52" cy="425.80" r="2.1"/><circle cx="439.20" cy="425.80" r="2.1"/><circle cx="445.88" cy="425.80" r="2.1"/><circle cx="452.56" cy="425.80" r="2.1"/><circle cx="459.24" cy="425.80" r="2.1"/><circle cx="465.92" cy="425.80" r="2.1"/><circle cx="472.60" cy="425.80" r="2.1"/><circle cx="479.28" cy="425.80" r="2.1"/><circle cx="485.96" cy="425.80" r="2.1"/><circle cx="492.64" cy="425.80" r="2.1"/><circle cx="499.32" cy="425.80" r="2.1"/><circle cx="506.00" cy="425.80" r="2.1"/><circle cx="512.68" cy="425.80" r="2.1"/><circle cx="519.36" cy="425.80" r="2.1"/><circle cx="526.04" cy="425.80" r="2.1"/></g>
<g fill="#fff" stroke="#1464f0" stroke-width="1.25" stroke-linejoin="miter"><path d="M335.00 368.58L337.50 363.88L340.00 368.58Z"/><path d="M341.20 368.28L343.70 363.58L346.20 368.28Z"/><path d="M347.60 372.28L350.10 367.58L352.60 372.28Z"/><path d="M353.50 377.48L356.00 372.78L358.50 377.48Z"/><path d="M360.50 382.88L363.00 378.18L365.50 382.88Z"/><path d="M366.90 423.58L369.40 418.88L371.90 423.58Z"/><path d="M373.10 426.08L375.60 421.38L378.10 426.08Z"/><path d="M379.70 426.78L382.20 422.08L384.70 426.78Z"/><path d="M386.38 427.08L388.88 422.38L391.38 427.08Z"/><path d="M393.06 427.08L395.56 422.38L398.06 427.08Z"/><path d="M399.74 427.08L402.24 422.38L404.74 427.08Z"/><path d="M406.42 427.08L408.92 422.38L411.42 427.08Z"/><path d="M413.10 427.08L415.60 422.38L418.10 427.08Z"/><path d="M419.78 427.08L422.28 422.38L424.78 427.08Z"/><path d="M426.46 427.08L428.96 422.38L431.46 427.08Z"/><path d="M433.14 427.08L435.64 422.38L438.14 427.08Z"/><path d="M439.82 427.08L442.32 422.38L444.82 427.08Z"/><path d="M446.50 427.08L449.00 422.38L451.50 427.08Z"/><path d="M453.18 427.08L455.68 422.38L458.18 427.08Z"/><path d="M459.86 427.08L462.36 422.38L464.86 427.08Z"/><path d="M466.54 427.08L469.04 422.38L471.54 427.08Z"/><path d="M473.22 427.08L475.72 422.38L478.22 427.08Z"/><path d="M479.90 427.08L482.40 422.38L484.90 427.08Z"/><path d="M486.58 427.08L489.08 422.38L491.58 427.08Z"/><path d="M493.26 427.08L495.76 422.38L498.26 427.08Z"/><path d="M499.94 427.08L502.44 422.38L504.94 427.08Z"/><path d="M506.62 427.08L509.12 422.38L511.62 427.08Z"/><path d="M513.30 427.08L515.80 422.38L518.30 427.08Z"/><path d="M519.98 427.08L522.48 422.38L524.98 427.08Z"/></g>
<rect x="334.0" y="295.5" width="196.00" height="143.30" fill="none" stroke="#000" stroke-width="2.7"/>
<path d="M358.50 438.8 v-3.8 M383.00 438.8 v-3.8 M407.50 438.8 v-3.8 M432.00 438.8 v-3.8 M456.50 438.8 v-3.8 M481.00 438.8 v-3.8 M505.50 438.8 v-3.8 M334.0 426.70 h3.6 M334.0 413.51 h3.6 M334.0 400.32 h3.6 M334.0 387.14 h3.6 M334.0 373.95 h3.6 M334.0 360.76 h3.6 M334.0 347.57 h3.6 M334.0 334.39 h3.6 M334.0 321.20 h3.6 M334.0 308.01 h3.6 M353.70 295.5 v3.6 M373.40 295.5 v3.6 M393.10 295.5 v3.6 M412.80 295.5 v3.6 M432.50 295.5 v3.6 M452.20 295.5 v3.6 M471.90 295.5 v3.6 M491.60 295.5 v3.6 M511.30 295.5 v3.6 M530.0 309.20 h-3.4 M530.0 320.10 h-3.4 M530.0 331.00 h-3.4 M530.0 341.90 h-3.4 M530.0 352.80 h-3.4 M530.0 363.70 h-3.4 M530.0 374.60 h-3.4 M530.0 385.50 h-3.4 M530.0 396.40 h-3.4 M530.0 407.30 h-3.4 M530.0 418.20 h-3.4 M530.0 429.10 h-3.4" stroke="#000" stroke-width="2" fill="none"/>
<text x="330.70" y="430.60" font-size="12.7" text-anchor="end">0.0</text>
<text x="330.70" y="404.22" font-size="12.7" text-anchor="end">0.5</text>
<text x="330.70" y="377.85" font-size="12.7" text-anchor="end">1.0</text>
<text x="330.70" y="351.47" font-size="12.7" text-anchor="end">1.5</text>
<text x="330.70" y="325.10" font-size="12.7" text-anchor="end">2.0</text>
<text x="330.70" y="299.30" font-size="12.7" text-anchor="end">2.5</text>
<text x="334.00" y="453.00" font-size="12.7" text-anchor="middle">0</text>
<text x="358.50" y="453.00" font-size="12.7" text-anchor="middle">10</text>
<text x="383.00" y="453.00" font-size="12.7" text-anchor="middle">20</text>
<text x="407.50" y="453.00" font-size="12.7" text-anchor="middle">30</text>
<text x="432.00" y="453.00" font-size="12.7" text-anchor="middle">40</text>
<text x="456.50" y="453.00" font-size="12.7" text-anchor="middle">50</text>
<text x="481.00" y="453.00" font-size="12.7" text-anchor="middle">60</text>
<text x="505.50" y="453.00" font-size="12.7" text-anchor="middle">70</text>
<text x="530.80" y="453.00" font-size="12.7" text-anchor="middle">80</text>
<text x="433.30" y="467.80" font-size="15.8" text-anchor="middle" textLength="215.80" lengthAdjust="spacingAndGlyphs">Distance from the habit plane/Å</text>
<text x="308.40" y="371.40" font-size="15.4" text-anchor="middle" transform="rotate(-90 308.40 371.40)" textLength="133.00" lengthAdjust="spacingAndGlyphs">Binding Energy(eV)</text>
<text x="428.20" y="289.80" font-size="16.6" text-anchor="middle">(c)</text>
<path d="M476.9 386.5H482.3M488.3 386.5H493.6" stroke="#464646" stroke-width="1.8"/>
<g fill="#fff" stroke="#464646" stroke-width="1.3"><rect x="483.30" y="384.50" width="4.0" height="4.0"/></g>
<text x="495.50" y="389.70" font-size="10" text-anchor="start" textLength="30.90" lengthAdjust="spacingAndGlyphs">R=40Å</text>
<path d="M476.9 399.5H482.3M488.3 399.5H493.6" stroke="#f01c28" stroke-width="1.8"/>
<g fill="#fff" stroke="#f01c28" stroke-width="1.4"><circle cx="485.30" cy="399.50" r="2.1"/></g>
<text x="495.50" y="402.70" font-size="10" text-anchor="start" textLength="30.90" lengthAdjust="spacingAndGlyphs">R=50Å</text>
<path d="M476.9 412.5H482.3M488.3 412.5H493.6" stroke="#1464f0" stroke-width="1.8"/>
<g fill="#fff" stroke="#1464f0" stroke-width="1.25" stroke-linejoin="miter"><path d="M482.80 414.58L485.30 409.88L487.80 414.58Z"/></g>
<text x="495.50" y="415.70" font-size="10" text-anchor="start" textLength="30.90" lengthAdjust="spacingAndGlyphs">R=60Å</text>
</g>
</svg>
</body>
</html>
